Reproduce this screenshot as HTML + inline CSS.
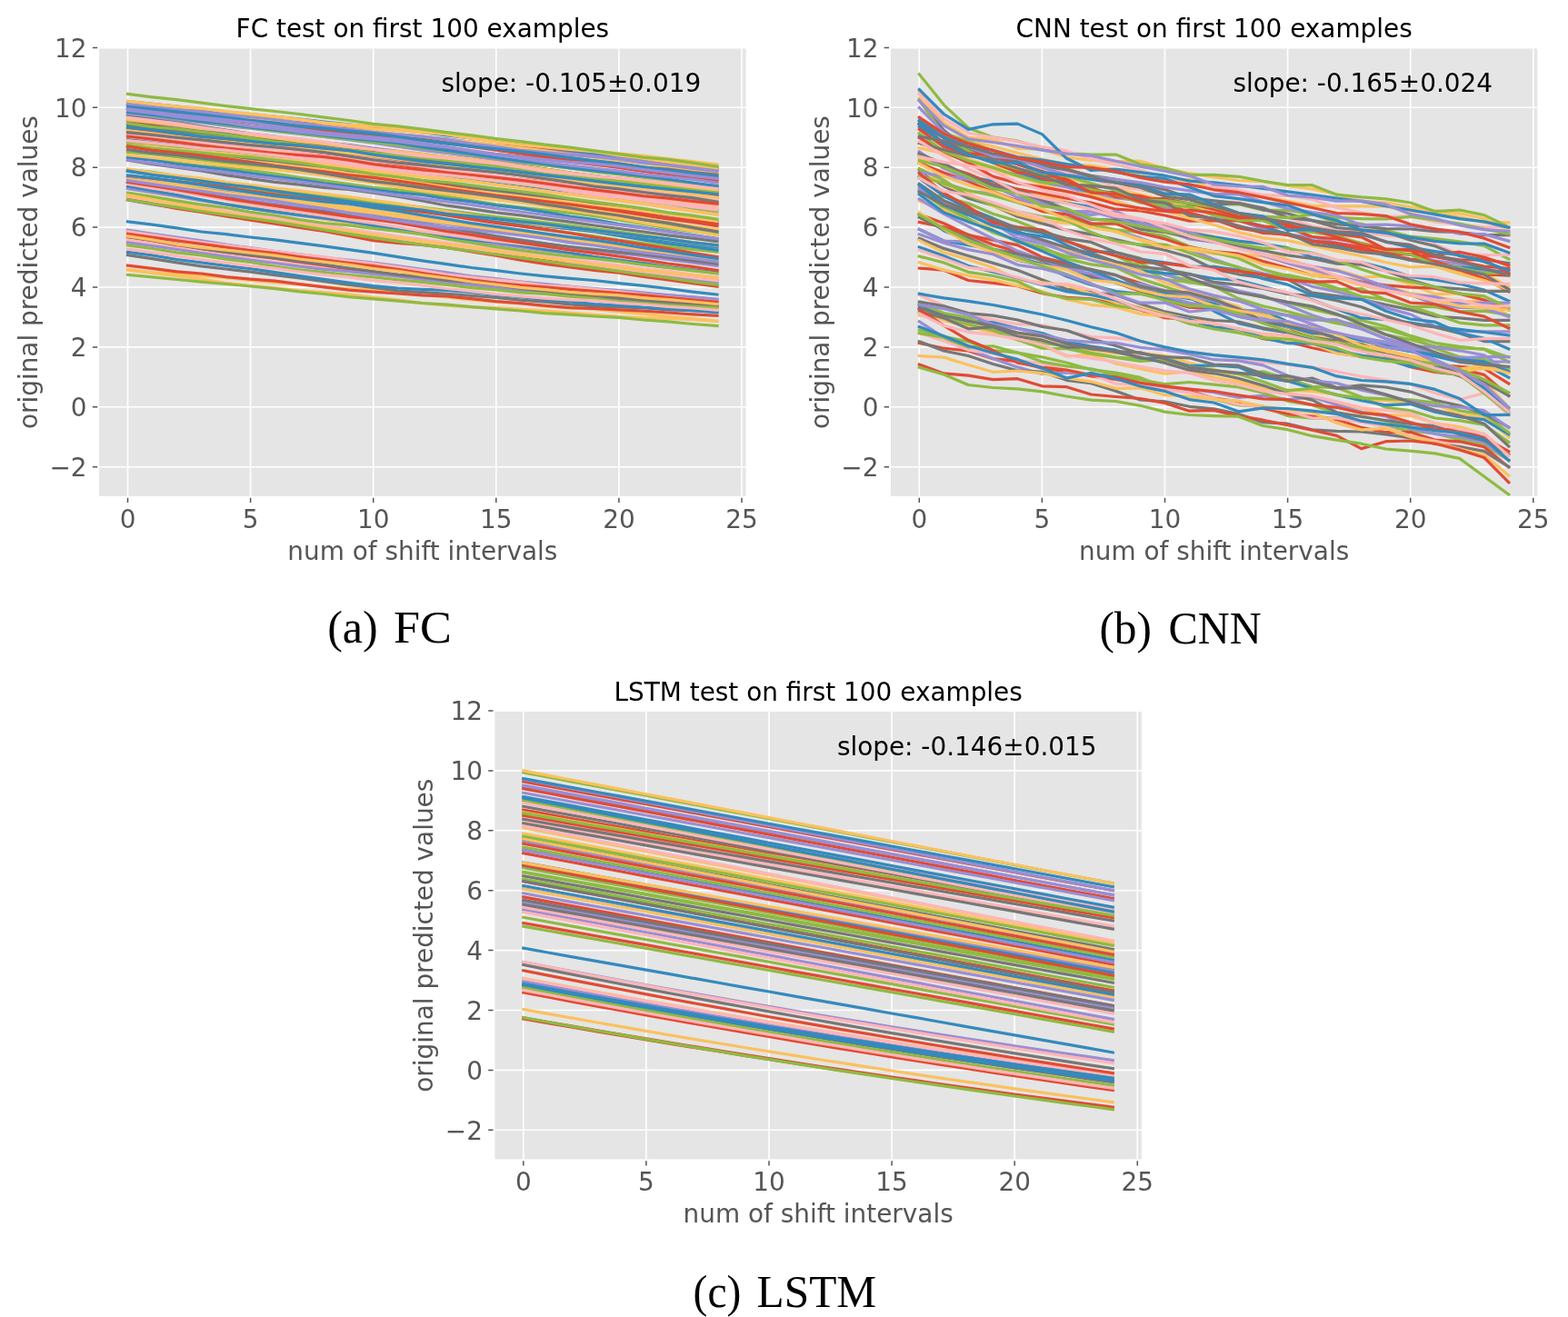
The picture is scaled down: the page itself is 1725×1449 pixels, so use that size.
<!DOCTYPE html>
<html><head><meta charset="utf-8"><title>figure</title>
<style>html,body{margin:0;padding:0;background:#fff;overflow:hidden;}svg{display:block;}</style></head>
<body>
<svg width="1725" height="1449" viewBox="0 0 1725 1449">
<rect width="100%" height="100%" fill="#fff"/>
<defs>
<clipPath id="c0"><rect x="109.10" y="53.40" width="711.50" height="492.40"/></clipPath>
<clipPath id="c1"><rect x="979.90" y="53.40" width="711.50" height="492.40"/></clipPath>
<clipPath id="c2"><rect x="544.40" y="783.00" width="711.50" height="492.40"/></clipPath>
</defs>
<g>
<rect x="109.10" y="53.40" width="711.50" height="492.40" fill="#E5E5E5"/>
<path d="M140.50 53.40V545.80M275.60 53.40V545.80M410.70 53.40V545.80M545.80 53.40V545.80M680.90 53.40V545.80M816.00 53.40V545.80M109.10 513.70H820.60M109.10 447.80H820.60M109.10 381.90H820.60M109.10 316.00H820.60M109.10 250.10H820.60M109.10 184.20H820.60M109.10 118.30H820.60M109.10 52.40H820.60" stroke="#fff" stroke-width="1.6" fill="none"/>
<g clip-path="url(#c0)" fill="none" stroke-width="3.2" stroke-linejoin="round" stroke-linecap="square">
<path d="M140.5,148.4 167.5,150.7 194.5,153.6 221.6,157.1 248.6,159.6 275.6,163.2 302.6,166.0 329.6,168.4 356.7,171.0 383.7,173.9 410.7,177.1 437.7,181.0 464.7,185.2 491.8,188.7 518.8,192.1 545.8,194.2 572.8,197.0 599.8,199.5 626.9,203.0 653.9,206.6 680.9,210.3 707.9,214.3 734.9,216.8 762.0,220.7 789.0,224.0" stroke="#E24A33"/>
<path d="M140.5,161.6 167.5,164.6 194.5,168.4 221.6,172.0 248.6,175.9 275.6,179.1 302.6,181.7 329.6,184.5 356.7,186.3 383.7,190.1 410.7,193.2 437.7,195.8 464.7,199.0 491.8,202.6 518.8,205.6 545.8,210.3 572.8,215.0 599.8,218.9 626.9,222.7 653.9,226.3 680.9,229.3 707.9,232.5 734.9,236.4 762.0,240.2 789.0,244.0" stroke="#348ABD"/>
<path d="M140.5,172.6 167.5,175.7 194.5,179.2 221.6,182.5 248.6,184.7 275.6,187.7 302.6,191.0 329.6,195.4 356.7,198.9 383.7,202.5 410.7,206.3 437.7,208.9 464.7,212.2 491.8,216.1 518.8,220.7 545.8,224.8 572.8,228.1 599.8,231.2 626.9,234.2 653.9,237.6 680.9,241.9 707.9,246.3 734.9,251.1 762.0,254.5 789.0,258.0" stroke="#8EBA42"/>
<path d="M140.5,114.3 167.5,117.0 194.5,120.0 221.6,123.4 248.6,126.2 275.6,129.9 302.6,132.8 329.6,135.2 356.7,137.7 383.7,141.0 410.7,144.7 437.7,148.6 464.7,152.0 491.8,154.3 518.8,157.1 545.8,159.8 572.8,161.5 599.8,164.6 626.9,167.7 653.9,171.2 680.9,175.1 707.9,177.7 734.9,180.4 762.0,183.4 789.0,185.9" stroke="#E24A33"/>
<path d="M140.5,114.3 167.5,116.8 194.5,119.9 221.6,123.6 248.6,126.2 275.6,128.9 302.6,132.3 329.6,135.9 356.7,139.1 383.7,143.3 410.7,145.7 437.7,147.9 464.7,150.4 491.8,152.9 518.8,156.3 545.8,160.1 572.8,162.9 599.8,165.9 626.9,168.9 653.9,171.3 680.9,174.2 707.9,177.5 734.9,181.3 762.0,183.1 789.0,187.0" stroke="#988ED5"/>
<path d="M140.5,264.1 167.5,268.0 194.5,273.1 221.6,277.0 248.6,280.9 275.6,285.0 302.6,288.6 329.6,291.0 356.7,294.1 383.7,297.9 410.7,301.6 437.7,304.7 464.7,308.5 491.8,312.0 518.8,314.9 545.8,318.2 572.8,320.4 599.8,323.1 626.9,325.6 653.9,327.6 680.9,330.0 707.9,331.8 734.9,335.0 762.0,336.3 789.0,338.1" stroke="#FFB5B8"/>
<path d="M140.5,161.3 167.5,164.3 194.5,167.6 221.6,171.0 248.6,174.4 275.6,178.2 302.6,181.8 329.6,185.8 356.7,189.1 383.7,192.1 410.7,194.9 437.7,198.1 464.7,201.5 491.8,204.4 518.8,208.9 545.8,213.6 572.8,218.0 599.8,222.6 626.9,227.2 653.9,230.5 680.9,233.5 707.9,237.5 734.9,241.0 762.0,244.3 789.0,248.6" stroke="#E24A33"/>
<path d="M140.5,153.0 167.5,156.2 194.5,159.5 221.6,162.4 248.6,165.2 275.6,168.2 302.6,170.4 329.6,173.7 356.7,177.6 383.7,180.9 410.7,184.4 437.7,188.1 464.7,190.9 491.8,193.5 518.8,197.3 545.8,200.4 572.8,203.6 599.8,207.2 626.9,211.2 653.9,214.1 680.9,216.9 707.9,220.6 734.9,224.0 762.0,227.6 789.0,231.5" stroke="#348ABD"/>
<path d="M140.5,216.2 167.5,220.7 194.5,225.4 221.6,229.2 248.6,234.0 275.6,238.7 302.6,242.9 329.6,247.6 356.7,251.4 383.7,255.3 410.7,258.7 437.7,262.1 464.7,266.6 491.8,270.0 518.8,274.5 545.8,279.1 572.8,283.1 599.8,286.8 626.9,290.2 653.9,293.2 680.9,295.4 707.9,298.2 734.9,301.9 762.0,305.1 789.0,308.6" stroke="#E24A33"/>
<path d="M140.5,155.9 167.5,158.4 194.5,161.0 221.6,163.6 248.6,166.8 275.6,170.4 302.6,173.3 329.6,176.8 356.7,179.1 383.7,181.6 410.7,184.0 437.7,187.0 464.7,188.5 491.8,191.4 518.8,195.0 545.8,198.9 572.8,202.3 599.8,205.7 626.9,209.3 653.9,214.1 680.9,218.5 707.9,222.3 734.9,225.5 762.0,229.8 789.0,233.9" stroke="#FFB5B8"/>
<path d="M140.5,187.9 167.5,191.4 194.5,195.7 221.6,199.6 248.6,204.0 275.6,208.9 302.6,212.9 329.6,216.2 356.7,219.7 383.7,221.7 410.7,225.6 437.7,228.7 464.7,231.8 491.8,236.3 518.8,240.1 545.8,244.9 572.8,248.4 599.8,252.8 626.9,256.2 653.9,259.8 680.9,264.1 707.9,267.5 734.9,271.2 762.0,274.5 789.0,277.3" stroke="#8EBA42"/>
<path d="M140.5,219.9 167.5,225.0 194.5,228.7 221.6,232.9 248.6,236.6 275.6,240.4 302.6,244.0 329.6,248.2 356.7,252.5 383.7,256.2 410.7,260.3 437.7,264.0 464.7,267.6 491.8,271.9 518.8,275.6 545.8,280.7 572.8,284.1 599.8,288.1 626.9,291.0 653.9,294.2 680.9,297.3 707.9,300.7 734.9,304.2 762.0,308.2 789.0,311.4" stroke="#988ED5"/>
<path d="M140.5,194.6 167.5,198.4 194.5,201.2 221.6,205.5 248.6,208.7 275.6,211.4 302.6,215.6 329.6,219.2 356.7,223.7 383.7,227.6 410.7,231.8 437.7,236.1 464.7,240.3 491.8,244.2 518.8,248.1 545.8,252.5 572.8,257.0 599.8,259.6 626.9,262.9 653.9,266.2 680.9,270.0 707.9,273.6 734.9,278.4 762.0,282.1 789.0,286.8" stroke="#988ED5"/>
<path d="M140.5,188.5 167.5,192.2 194.5,195.2 221.6,197.7 248.6,201.2 275.6,205.7 302.6,209.1 329.6,213.0 356.7,216.1 383.7,218.9 410.7,221.6 437.7,225.8 464.7,229.9 491.8,234.1 518.8,238.9 545.8,242.4 572.8,245.6 599.8,248.9 626.9,251.7 653.9,254.9 680.9,259.4 707.9,263.9 734.9,267.8 762.0,271.5 789.0,275.3" stroke="#348ABD"/>
<path d="M140.5,119.7 167.5,122.8 194.5,125.5 221.6,129.6 248.6,132.2 275.6,135.3 302.6,138.1 329.6,140.5 356.7,142.8 383.7,145.7 410.7,148.5 437.7,151.5 464.7,154.5 491.8,157.6 518.8,161.4 545.8,165.2 572.8,168.8 599.8,172.4 626.9,176.1 653.9,179.1 680.9,182.8 707.9,186.5 734.9,189.5 762.0,193.4 789.0,196.4" stroke="#E24A33"/>
<path d="M140.5,260.6 167.5,264.7 194.5,269.6 221.6,273.3 248.6,277.3 275.6,281.1 302.6,284.5 329.6,288.2 356.7,291.9 383.7,295.9 410.7,299.5 437.7,302.3 464.7,304.7 491.8,307.5 518.8,310.3 545.8,314.6 572.8,317.7 599.8,321.1 626.9,323.8 653.9,325.6 680.9,327.5 707.9,329.6 734.9,332.0 762.0,334.6 789.0,336.4" stroke="#E24A33"/>
<path d="M140.5,127.5 167.5,131.0 194.5,135.2 221.6,139.7 248.6,143.0 275.6,147.2 302.6,150.1 329.6,154.1 356.7,156.8 383.7,159.5 410.7,163.1 437.7,166.4 464.7,169.4 491.8,172.5 518.8,175.8 545.8,179.3 572.8,182.2 599.8,186.0 626.9,190.0 653.9,193.8 680.9,196.7 707.9,199.5 734.9,202.1 762.0,204.6 789.0,207.9" stroke="#988ED5"/>
<path d="M140.5,132.5 167.5,136.6 194.5,140.7 221.6,144.3 248.6,147.7 275.6,150.1 302.6,153.2 329.6,155.3 356.7,158.8 383.7,162.6 410.7,165.6 437.7,169.6 464.7,173.3 491.8,177.7 518.8,180.8 545.8,184.1 572.8,187.2 599.8,189.7 626.9,191.8 653.9,194.0 680.9,196.2 707.9,199.4 734.9,202.6 762.0,206.2 789.0,209.1" stroke="#E24A33"/>
<path d="M140.5,150.4 167.5,153.1 194.5,156.1 221.6,159.3 248.6,162.3 275.6,165.4 302.6,168.3 329.6,171.7 356.7,174.9 383.7,178.4 410.7,181.4 437.7,184.4 464.7,187.5 491.8,191.3 518.8,194.2 545.8,197.3 572.8,200.4 599.8,203.8 626.9,207.0 653.9,210.3 680.9,213.6 707.9,216.7 734.9,220.5 762.0,223.8 789.0,226.7" stroke="#FBC15E"/>
<path d="M140.5,188.1 167.5,191.7 194.5,195.3 221.6,198.7 248.6,202.7 275.6,205.3 302.6,208.5 329.6,211.5 356.7,214.3 383.7,218.0 410.7,221.6 437.7,225.4 464.7,230.0 491.8,234.0 518.8,238.0 545.8,242.1 572.8,245.5 599.8,248.7 626.9,251.7 653.9,254.1 680.9,258.0 707.9,261.1 734.9,264.7 762.0,268.6 789.0,272.2" stroke="#348ABD"/>
<path d="M140.5,119.6 167.5,122.9 194.5,126.2 221.6,129.1 248.6,131.9 275.6,134.3 302.6,136.9 329.6,140.2 356.7,143.7 383.7,148.2 410.7,152.2 437.7,156.8 464.7,160.3 491.8,164.3 518.8,167.3 545.8,169.6 572.8,172.1 599.8,174.7 626.9,178.2 653.9,181.1 680.9,184.3 707.9,188.3 734.9,191.6 762.0,195.4 789.0,198.9" stroke="#E24A33"/>
<path d="M140.5,165.5 167.5,168.4 194.5,170.7 221.6,174.5 248.6,178.0 275.6,181.3 302.6,185.5 329.6,188.3 356.7,191.9 383.7,194.3 410.7,198.5 437.7,202.1 464.7,206.5 491.8,210.3 518.8,213.9 545.8,217.3 572.8,220.6 599.8,223.7 626.9,227.4 653.9,231.5 680.9,235.5 707.9,239.8 734.9,244.5 762.0,248.5 789.0,252.4" stroke="#FBC15E"/>
<path d="M140.5,207.2 167.5,212.1 194.5,216.5 221.6,220.6 248.6,224.6 275.6,228.3 302.6,232.9 329.6,236.8 356.7,241.3 383.7,245.5 410.7,248.6 437.7,252.0 464.7,255.5 491.8,259.6 518.8,264.3 545.8,268.2 572.8,272.0 599.8,275.6 626.9,278.9 653.9,282.5 680.9,286.6 707.9,290.5 734.9,293.5 762.0,297.2 789.0,300.8" stroke="#FBC15E"/>
<path d="M140.5,137.9 167.5,140.4 194.5,144.3 221.6,146.9 248.6,151.0 275.6,153.6 302.6,157.1 329.6,160.7 356.7,163.6 383.7,166.6 410.7,169.7 437.7,172.8 464.7,176.5 491.8,180.6 518.8,183.3 545.8,186.1 572.8,189.1 599.8,191.6 626.9,195.6 653.9,198.3 680.9,201.6 707.9,204.7 734.9,208.4 762.0,211.4 789.0,214.3" stroke="#777777"/>
<path d="M140.5,214.7 167.5,219.4 194.5,223.0 221.6,227.0 248.6,231.5 275.6,235.7 302.6,239.7 329.6,243.4 356.7,247.7 383.7,252.0 410.7,255.8 437.7,259.8 464.7,263.4 491.8,267.2 518.8,270.9 545.8,273.9 572.8,277.7 599.8,281.9 626.9,285.3 653.9,288.6 680.9,291.9 707.9,295.5 734.9,298.2 762.0,302.2 789.0,304.8" stroke="#FFB5B8"/>
<path d="M140.5,144.1 167.5,147.1 194.5,151.0 221.6,153.7 248.6,157.0 275.6,159.9 302.6,162.6 329.6,165.2 356.7,167.8 383.7,170.6 410.7,173.2 437.7,175.9 464.7,179.2 491.8,181.7 518.8,185.6 545.8,189.3 572.8,193.0 599.8,197.4 626.9,200.4 653.9,204.2 680.9,207.5 707.9,210.5 734.9,213.5 762.0,216.5 789.0,219.5" stroke="#FFB5B8"/>
<path d="M140.5,147.9 167.5,150.2 194.5,152.9 221.6,156.5 248.6,159.7 275.6,162.0 302.6,165.4 329.6,168.5 356.7,171.6 383.7,174.7 410.7,177.2 437.7,179.9 464.7,182.9 491.8,186.7 518.8,189.6 545.8,193.5 572.8,197.1 599.8,200.5 626.9,204.2 653.9,206.8 680.9,210.6 707.9,214.0 734.9,217.5 762.0,221.0 789.0,224.8" stroke="#FFB5B8"/>
<path d="M140.5,217.3 167.5,221.8 194.5,225.1 221.6,230.4 248.6,233.8 275.6,238.0 302.6,242.4 329.6,245.6 356.7,249.4 383.7,253.6 410.7,257.9 437.7,262.2 464.7,266.3 491.8,270.4 518.8,273.8 545.8,276.9 572.8,280.5 599.8,283.4 626.9,287.9 653.9,291.2 680.9,295.3 707.9,299.0 734.9,301.9 762.0,305.3 789.0,308.6" stroke="#FFB5B8"/>
<path d="M140.5,143.4 167.5,146.7 194.5,150.0 221.6,152.1 248.6,155.0 275.6,158.0 302.6,160.6 329.6,164.5 356.7,166.4 383.7,170.2 410.7,173.0 437.7,175.6 464.7,179.8 491.8,182.6 518.8,185.5 545.8,188.7 572.8,192.7 599.8,196.0 626.9,198.9 653.9,202.8 680.9,205.8 707.9,209.6 734.9,212.8 762.0,216.5 789.0,219.5" stroke="#FFB5B8"/>
<path d="M140.5,207.6 167.5,211.7 194.5,215.9 221.6,220.7 248.6,225.0 275.6,229.4 302.6,233.3 329.6,237.1 356.7,240.1 383.7,243.7 410.7,248.5 437.7,253.3 464.7,257.6 491.8,262.0 518.8,265.4 545.8,268.7 572.8,271.9 599.8,275.5 626.9,278.6 653.9,282.7 680.9,287.0 707.9,290.9 734.9,294.4 762.0,297.1 789.0,300.6" stroke="#988ED5"/>
<path d="M140.5,132.1 167.5,134.6 194.5,138.6 221.6,141.8 248.6,145.1 275.6,148.4 302.6,151.4 329.6,155.4 356.7,158.4 383.7,161.9 410.7,164.7 437.7,168.3 464.7,171.4 491.8,174.4 518.8,177.5 545.8,180.7 572.8,184.6 599.8,187.2 626.9,190.7 653.9,193.7 680.9,197.0 707.9,200.3 734.9,203.5 762.0,206.7 789.0,209.4" stroke="#988ED5"/>
<path d="M140.5,126.7 167.5,130.3 194.5,134.6 221.6,139.0 248.6,143.3 275.6,147.3 302.6,151.4 329.6,153.9 356.7,156.8 383.7,159.9 410.7,163.8 437.7,167.8 464.7,171.8 491.8,174.7 518.8,177.1 545.8,179.4 572.8,182.7 599.8,186.2 626.9,190.2 653.9,193.5 680.9,196.8 707.9,199.9 734.9,202.7 762.0,205.4 789.0,207.9" stroke="#777777"/>
<path d="M140.5,141.3 167.5,144.4 194.5,147.0 221.6,149.3 248.6,151.7 275.6,154.8 302.6,157.9 329.6,160.5 356.7,164.1 383.7,166.8 410.7,169.5 437.7,172.2 464.7,174.5 491.8,176.8 518.8,180.4 545.8,183.9 572.8,188.0 599.8,191.7 626.9,196.0 653.9,200.1 680.9,203.3 707.9,206.1 734.9,209.7 762.0,212.5 789.0,216.2" stroke="#8EBA42"/>
<path d="M140.5,205.0 167.5,209.7 194.5,214.5 221.6,219.8 248.6,224.7 275.6,229.2 302.6,232.8 329.6,236.5 356.7,240.0 383.7,243.7 410.7,248.0 437.7,252.2 464.7,256.9 491.8,260.9 518.8,263.8 545.8,266.2 572.8,270.1 599.8,274.3 626.9,278.0 653.9,282.6 680.9,285.6 707.9,289.2 734.9,292.0 762.0,294.4 789.0,297.9" stroke="#348ABD"/>
<path d="M140.5,156.5 167.5,158.4 194.5,161.6 221.6,163.7 248.6,166.5 275.6,169.0 302.6,171.5 329.6,174.5 356.7,177.0 383.7,180.0 410.7,183.2 437.7,186.4 464.7,189.9 491.8,192.8 518.8,196.3 545.8,199.2 572.8,202.4 599.8,206.3 626.9,210.0 653.9,213.4 680.9,217.6 707.9,221.2 734.9,225.0 762.0,229.2 789.0,232.7" stroke="#8EBA42"/>
<path d="M140.5,186.5 167.5,189.3 194.5,193.6 221.6,196.9 248.6,200.7 275.6,204.5 302.6,207.6 329.6,211.5 356.7,214.7 383.7,219.1 410.7,222.2 437.7,224.8 464.7,228.3 491.8,231.6 518.8,235.0 545.8,238.5 572.8,241.7 599.8,244.9 626.9,248.0 653.9,251.7 680.9,255.2 707.9,258.6 734.9,263.0 762.0,266.6 789.0,269.7" stroke="#8EBA42"/>
<path d="M140.5,160.8 167.5,163.6 194.5,166.8 221.6,170.0 248.6,172.5 275.6,175.5 302.6,178.9 329.6,181.9 356.7,185.1 383.7,189.0 410.7,192.6 437.7,195.8 464.7,198.9 491.8,201.7 518.8,205.7 545.8,209.5 572.8,213.3 599.8,216.9 626.9,220.3 653.9,223.5 680.9,227.6 707.9,231.2 734.9,235.5 762.0,240.0 789.0,243.8" stroke="#777777"/>
<path d="M140.5,167.2 167.5,169.6 194.5,172.7 221.6,175.8 248.6,179.2 275.6,182.4 302.6,186.1 329.6,189.2 356.7,192.7 383.7,196.5 410.7,199.3 437.7,203.2 464.7,205.4 491.8,208.6 518.8,211.7 545.8,215.1 572.8,219.7 599.8,224.2 626.9,228.5 653.9,233.6 680.9,238.0 707.9,242.0 734.9,246.5 762.0,251.4 789.0,255.3" stroke="#8EBA42"/>
<path d="M140.5,296.4 167.5,299.6 194.5,300.8 221.6,303.5 248.6,305.6 275.6,308.3 302.6,310.8 329.6,312.9 356.7,315.6 383.7,317.5 410.7,319.2 437.7,321.8 464.7,324.7 491.8,327.0 518.8,330.0 545.8,332.1 572.8,334.0 599.8,336.8 626.9,338.7 653.9,340.5 680.9,343.0 707.9,345.3 734.9,348.1 762.0,350.4 789.0,353.2" stroke="#FBC15E"/>
<path d="M140.5,159.8 167.5,161.8 194.5,164.3 221.6,166.9 248.6,169.1 275.6,172.1 302.6,174.9 329.6,177.7 356.7,181.7 383.7,184.0 410.7,186.6 437.7,189.9 464.7,193.0 491.8,196.0 518.8,199.7 545.8,203.4 572.8,206.9 599.8,210.4 626.9,213.9 653.9,217.2 680.9,220.8 707.9,224.5 734.9,227.3 762.0,232.1 789.0,236.1" stroke="#FFB5B8"/>
<path d="M140.5,135.5 167.5,138.9 194.5,141.9 221.6,144.9 248.6,147.5 275.6,151.0 302.6,154.0 329.6,158.0 356.7,161.5 383.7,165.9 410.7,169.4 437.7,172.9 464.7,176.4 491.8,179.3 518.8,182.3 545.8,184.6 572.8,187.3 599.8,189.8 626.9,192.7 653.9,196.1 680.9,199.3 707.9,202.7 734.9,206.5 762.0,209.5 789.0,212.3" stroke="#777777"/>
<path d="M140.5,253.9 167.5,257.6 194.5,261.7 221.6,266.1 248.6,269.7 275.6,272.5 302.6,276.7 329.6,279.9 356.7,283.4 383.7,286.0 410.7,289.1 437.7,292.6 464.7,296.3 491.8,299.8 518.8,303.9 545.8,306.7 572.8,310.1 599.8,312.7 626.9,315.3 653.9,317.7 680.9,319.5 707.9,322.1 734.9,324.8 762.0,326.8 789.0,329.1" stroke="#988ED5"/>
<path d="M140.5,118.1 167.5,120.4 194.5,123.0 221.6,125.4 248.6,127.6 275.6,130.5 302.6,132.8 329.6,136.0 356.7,138.4 383.7,141.5 410.7,144.4 437.7,147.7 464.7,150.7 491.8,153.9 518.8,156.4 545.8,159.8 572.8,162.9 599.8,166.2 626.9,170.0 653.9,173.5 680.9,176.7 707.9,179.8 734.9,183.9 762.0,187.6 789.0,191.3" stroke="#FBC15E"/>
<path d="M140.5,185.8 167.5,190.1 194.5,193.4 221.6,196.2 248.6,200.4 275.6,203.4 302.6,207.1 329.6,209.9 356.7,213.3 383.7,216.5 410.7,220.4 437.7,223.8 464.7,228.8 491.8,232.9 518.8,237.0 545.8,240.8 572.8,244.3 599.8,248.2 626.9,250.2 653.9,253.7 680.9,256.8 707.9,260.1 734.9,263.2 762.0,267.2 789.0,270.4" stroke="#FBC15E"/>
<path d="M140.5,118.0 167.5,120.8 194.5,123.9 221.6,128.0 248.6,130.6 275.6,133.5 302.6,136.3 329.6,138.8 356.7,141.5 383.7,144.9 410.7,147.6 437.7,150.5 464.7,153.3 491.8,157.0 518.8,159.7 545.8,162.9 572.8,166.0 599.8,169.9 626.9,173.6 653.9,176.8 680.9,179.9 707.9,184.1 734.9,186.1 762.0,189.7 789.0,192.3" stroke="#777777"/>
<path d="M140.5,297.0 167.5,300.4 194.5,303.6 221.6,307.2 248.6,311.3 275.6,314.3 302.6,316.9 329.6,319.7 356.7,321.5 383.7,323.9 410.7,327.0 437.7,329.8 464.7,333.7 491.8,336.2 518.8,337.9 545.8,338.7 572.8,340.3 599.8,341.8 626.9,344.1 653.9,346.3 680.9,348.3 707.9,349.7 734.9,350.5 762.0,351.6 789.0,353.3" stroke="#FBC15E"/>
<path d="M140.5,162.1 167.5,165.0 194.5,168.4 221.6,171.0 248.6,174.1 275.6,177.5 302.6,180.4 329.6,183.6 356.7,186.6 383.7,190.9 410.7,193.8 437.7,197.5 464.7,201.9 491.8,205.9 518.8,209.8 545.8,212.9 572.8,216.1 599.8,219.4 626.9,222.4 653.9,226.0 680.9,228.8 707.9,232.5 734.9,236.0 762.0,240.1 789.0,243.8" stroke="#FBC15E"/>
<path d="M140.5,142.0 167.5,145.8 194.5,148.2 221.6,151.2 248.6,154.0 275.6,156.8 302.6,160.2 329.6,162.6 356.7,165.6 383.7,168.7 410.7,171.8 437.7,175.3 464.7,179.6 491.8,182.5 518.8,186.3 545.8,189.5 572.8,192.2 599.8,194.5 626.9,197.3 653.9,199.5 680.9,202.7 707.9,206.3 734.9,209.3 762.0,212.8 789.0,216.0" stroke="#E24A33"/>
<path d="M140.5,111.6 167.5,114.4 194.5,117.1 221.6,120.0 248.6,123.5 275.6,125.9 302.6,128.3 329.6,131.2 356.7,134.1 383.7,136.9 410.7,140.7 437.7,143.1 464.7,145.6 491.8,148.8 518.8,151.8 545.8,154.6 572.8,158.4 599.8,162.0 626.9,165.1 653.9,168.7 680.9,171.1 707.9,174.7 734.9,177.8 762.0,180.8 789.0,184.4" stroke="#348ABD"/>
<path d="M140.5,125.2 167.5,128.3 194.5,131.9 221.6,135.0 248.6,138.5 275.6,141.2 302.6,144.4 329.6,147.5 356.7,150.3 383.7,153.6 410.7,157.2 437.7,161.1 464.7,165.1 491.8,168.4 518.8,172.0 545.8,175.9 572.8,179.2 599.8,181.8 626.9,184.8 653.9,188.2 680.9,190.5 707.9,195.1 734.9,198.3 762.0,201.6 789.0,204.9" stroke="#988ED5"/>
<path d="M140.5,195.1 167.5,198.7 194.5,202.1 221.6,205.8 248.6,209.0 275.6,213.0 302.6,216.5 329.6,220.5 356.7,224.0 383.7,227.9 410.7,231.4 437.7,235.1 464.7,239.4 491.8,243.7 518.8,248.4 545.8,252.7 572.8,256.1 599.8,259.8 626.9,262.7 653.9,266.2 680.9,270.3 707.9,274.6 734.9,278.4 762.0,282.2 789.0,286.4" stroke="#FBC15E"/>
<path d="M140.5,131.6 167.5,134.6 194.5,137.6 221.6,141.3 248.6,143.9 275.6,148.4 302.6,151.8 329.6,155.5 356.7,158.2 383.7,161.7 410.7,164.5 437.7,166.5 464.7,169.6 491.8,172.6 518.8,175.4 545.8,178.7 572.8,182.7 599.8,186.3 626.9,190.2 653.9,193.6 680.9,197.0 707.9,200.2 734.9,203.5 762.0,206.3 789.0,209.7" stroke="#FBC15E"/>
<path d="M140.5,253.1 167.5,257.3 194.5,261.1 221.6,264.9 248.6,269.1 275.6,273.5 302.6,277.2 329.6,280.3 356.7,284.2 383.7,287.9 410.7,291.3 437.7,295.7 464.7,298.8 491.8,303.0 518.8,306.0 545.8,308.4 572.8,310.1 599.8,313.1 626.9,315.4 653.9,318.5 680.9,320.3 707.9,323.0 734.9,324.6 762.0,327.2 789.0,329.7" stroke="#988ED5"/>
<path d="M140.5,200.6 167.5,204.5 194.5,208.6 221.6,212.6 248.6,216.9 275.6,220.8 302.6,224.4 329.6,227.8 356.7,232.1 383.7,235.9 410.7,240.9 437.7,244.5 464.7,248.5 491.8,252.0 518.8,256.1 545.8,259.6 572.8,263.8 599.8,267.8 626.9,271.9 653.9,275.5 680.9,278.6 707.9,281.7 734.9,285.3 762.0,288.9 789.0,292.4" stroke="#988ED5"/>
<path d="M140.5,111.4 167.5,114.8 194.5,117.4 221.6,119.5 248.6,122.6 275.6,125.1 302.6,128.3 329.6,131.4 356.7,135.4 383.7,138.1 410.7,141.5 437.7,143.7 464.7,145.9 491.8,147.4 518.8,150.0 545.8,153.0 572.8,156.5 599.8,160.0 626.9,162.8 653.9,166.1 680.9,168.8 707.9,171.3 734.9,174.5 762.0,177.5 789.0,180.8" stroke="#FBC15E"/>
<path d="M140.5,200.6 167.5,204.0 194.5,208.5 221.6,213.5 248.6,217.5 275.6,222.4 302.6,226.2 329.6,229.8 356.7,232.5 383.7,235.3 410.7,238.4 437.7,241.9 464.7,245.9 491.8,250.5 518.8,254.9 545.8,260.0 572.8,264.3 599.8,268.1 626.9,271.5 653.9,274.3 680.9,277.4 707.9,280.0 734.9,283.2 762.0,287.0 789.0,290.2" stroke="#777777"/>
<path d="M140.5,266.8 167.5,270.5 194.5,274.4 221.6,278.5 248.6,282.4 275.6,286.0 302.6,289.5 329.6,293.1 356.7,296.3 383.7,298.7 410.7,301.4 437.7,304.0 464.7,307.4 491.8,310.5 518.8,313.5 545.8,316.4 572.8,319.8 599.8,322.6 626.9,325.3 653.9,327.4 680.9,329.2 707.9,331.4 734.9,333.5 762.0,336.4 789.0,337.8" stroke="#988ED5"/>
<path d="M140.5,150.4 167.5,153.7 194.5,156.3 221.6,159.5 248.6,162.7 275.6,165.6 302.6,168.6 329.6,171.9 356.7,175.2 383.7,178.7 410.7,181.6 437.7,184.7 464.7,188.2 491.8,191.7 518.8,194.1 545.8,196.7 572.8,199.6 599.8,203.4 626.9,207.4 653.9,211.1 680.9,214.9 707.9,218.2 734.9,221.5 762.0,225.2 789.0,228.5" stroke="#FFB5B8"/>
<path d="M140.5,176.2 167.5,180.6 194.5,184.2 221.6,187.9 248.6,192.7 275.6,196.6 302.6,200.4 329.6,203.2 356.7,206.4 383.7,208.4 410.7,212.1 437.7,216.1 464.7,221.0 491.8,226.2 518.8,229.9 545.8,233.9 572.8,236.9 599.8,240.6 626.9,244.2 653.9,248.0 680.9,251.5 707.9,255.0 734.9,258.9 762.0,262.2 789.0,265.6" stroke="#777777"/>
<path d="M140.5,143.5 167.5,146.8 194.5,150.0 221.6,153.5 248.6,155.9 275.6,158.7 302.6,161.4 329.6,163.7 356.7,166.0 383.7,168.5 410.7,171.6 437.7,175.0 464.7,178.4 491.8,181.5 518.8,184.9 545.8,187.7 572.8,192.1 599.8,195.3 626.9,198.2 653.9,201.7 680.9,204.1 707.9,207.4 734.9,210.3 762.0,213.7 789.0,217.3" stroke="#FBC15E"/>
<path d="M140.5,254.7 167.5,258.7 194.5,262.7 221.6,266.7 248.6,269.9 275.6,273.2 302.6,276.6 329.6,279.8 356.7,282.6 383.7,286.8 410.7,290.1 437.7,293.9 464.7,297.6 491.8,302.2 518.8,305.0 545.8,307.8 572.8,310.5 599.8,314.0 626.9,315.5 653.9,318.3 680.9,320.8 707.9,323.9 734.9,326.9 762.0,329.6 789.0,331.9" stroke="#FFB5B8"/>
<path d="M140.5,196.6 167.5,200.3 194.5,204.5 221.6,207.8 248.6,211.4 275.6,215.7 302.6,219.7 329.6,224.3 356.7,227.8 383.7,232.1 410.7,235.7 437.7,239.3 464.7,243.3 491.8,246.5 518.8,250.1 545.8,253.8 572.8,257.3 599.8,261.0 626.9,264.1 653.9,267.8 680.9,271.9 707.9,275.0 734.9,279.0 762.0,282.8 789.0,285.6" stroke="#988ED5"/>
<path d="M140.5,114.4 167.5,117.3 194.5,120.5 221.6,123.4 248.6,126.1 275.6,128.7 302.6,131.5 329.6,135.2 356.7,139.2 383.7,142.2 410.7,145.4 437.7,147.8 464.7,150.2 491.8,153.9 518.8,158.0 545.8,161.3 572.8,165.3 599.8,167.7 626.9,170.3 653.9,172.5 680.9,175.2 707.9,179.1 734.9,181.7 762.0,185.3 789.0,188.4" stroke="#988ED5"/>
<path d="M140.5,159.1 167.5,161.6 194.5,164.5 221.6,167.4 248.6,169.3 275.6,172.0 302.6,175.0 329.6,177.8 356.7,180.8 383.7,184.9 410.7,188.3 437.7,191.5 464.7,194.7 491.8,197.1 518.8,199.7 545.8,203.0 572.8,206.7 599.8,211.0 626.9,213.9 653.9,217.5 680.9,220.9 707.9,224.4 734.9,228.6 762.0,232.5 789.0,236.2" stroke="#FBC15E"/>
<path d="M140.5,193.4 167.5,196.1 194.5,199.3 221.6,202.5 248.6,206.1 275.6,210.3 302.6,214.2 329.6,217.6 356.7,220.2 383.7,223.3 410.7,226.9 437.7,229.9 464.7,233.2 491.8,236.9 518.8,241.4 545.8,245.3 572.8,248.8 599.8,252.4 626.9,256.5 653.9,261.1 680.9,264.8 707.9,269.3 734.9,273.7 762.0,278.4 789.0,282.7" stroke="#E24A33"/>
<path d="M140.5,111.4 167.5,114.3 194.5,117.2 221.6,119.2 248.6,122.7 275.6,125.6 302.6,128.4 329.6,131.5 356.7,134.9 383.7,137.2 410.7,138.5 437.7,140.8 464.7,144.3 491.8,148.0 518.8,152.1 545.8,156.2 572.8,159.5 599.8,161.8 626.9,164.5 653.9,167.0 680.9,170.8 707.9,174.3 734.9,178.1 762.0,181.3 789.0,184.8" stroke="#FBC15E"/>
<path d="M140.5,173.5 167.5,176.2 194.5,180.5 221.6,183.7 248.6,186.9 275.6,190.5 302.6,194.1 329.6,197.5 356.7,201.8 383.7,205.0 410.7,208.5 437.7,211.8 464.7,214.3 491.8,218.9 518.8,221.8 545.8,226.0 572.8,229.2 599.8,233.4 626.9,238.1 653.9,241.7 680.9,246.5 707.9,250.3 734.9,254.5 762.0,258.7 789.0,262.7" stroke="#348ABD"/>
<path d="M140.5,197.1 167.5,200.6 194.5,204.3 221.6,208.3 248.6,212.1 275.6,215.6 302.6,219.2 329.6,222.6 356.7,226.4 383.7,230.9 410.7,234.1 437.7,238.1 464.7,242.0 491.8,245.3 518.8,248.8 545.8,252.4 572.8,256.4 599.8,259.6 626.9,263.4 653.9,267.5 680.9,271.7 707.9,274.9 734.9,278.5 762.0,282.2 789.0,285.8" stroke="#FBC15E"/>
<path d="M140.5,219.7 167.5,224.2 194.5,229.4 221.6,233.5 248.6,237.9 275.6,242.1 302.6,246.1 329.6,250.3 356.7,254.5 383.7,259.4 410.7,264.6 437.7,267.5 464.7,269.5 491.8,272.7 518.8,276.8 545.8,281.2 572.8,286.2 599.8,290.3 626.9,293.8 653.9,297.4 680.9,300.1 707.9,304.4 734.9,307.9 762.0,311.7 789.0,315.2" stroke="#E24A33"/>
<path d="M140.5,123.6 167.5,126.8 194.5,130.3 221.6,134.0 248.6,137.4 275.6,140.7 302.6,144.1 329.6,146.9 356.7,150.4 383.7,153.2 410.7,156.4 437.7,159.3 464.7,163.0 491.8,166.5 518.8,170.1 545.8,173.7 572.8,178.0 599.8,181.8 626.9,185.0 653.9,189.0 680.9,191.9 707.9,195.4 734.9,198.4 762.0,202.0 789.0,204.5" stroke="#8EBA42"/>
<path d="M140.5,202.5 167.5,207.1 194.5,211.0 221.6,215.5 248.6,220.0 275.6,225.0 302.6,229.6 329.6,233.5 356.7,237.4 383.7,241.6 410.7,245.4 437.7,249.7 464.7,254.3 491.8,258.1 518.8,261.8 545.8,265.4 572.8,268.4 599.8,271.7 626.9,275.1 653.9,278.9 680.9,283.0 707.9,286.4 734.9,290.4 762.0,293.6 789.0,296.7" stroke="#FFB5B8"/>
<path d="M140.5,135.6 167.5,139.6 194.5,141.8 221.6,145.2 248.6,148.0 275.6,151.9 302.6,156.2 329.6,159.1 356.7,162.5 383.7,165.0 410.7,168.3 437.7,170.7 464.7,173.5 491.8,176.5 518.8,179.8 545.8,183.4 572.8,186.1 599.8,189.3 626.9,192.8 653.9,196.3 680.9,199.3 707.9,202.5 734.9,205.9 762.0,209.1 789.0,211.9" stroke="#8EBA42"/>
<path d="M140.5,123.4 167.5,126.3 194.5,130.0 221.6,133.7 248.6,136.3 275.6,140.1 302.6,143.0 329.6,145.9 356.7,148.8 383.7,151.8 410.7,154.7 437.7,157.4 464.7,161.9 491.8,165.7 518.8,169.4 545.8,173.4 572.8,177.1 599.8,180.5 626.9,184.6 653.9,187.6 680.9,190.7 707.9,194.0 734.9,197.2 762.0,201.0 789.0,204.9" stroke="#348ABD"/>
<path d="M140.5,159.4 167.5,163.0 194.5,165.5 221.6,168.1 248.6,170.9 275.6,172.8 302.6,176.0 329.6,179.1 356.7,183.5 383.7,187.0 410.7,191.6 437.7,194.5 464.7,198.4 491.8,200.5 518.8,203.8 545.8,207.3 572.8,210.5 599.8,214.1 626.9,218.4 653.9,222.1 680.9,225.6 707.9,229.3 734.9,233.9 762.0,237.2 789.0,241.2" stroke="#8EBA42"/>
<path d="M140.5,280.7 167.5,284.7 194.5,288.8 221.6,292.8 248.6,296.0 275.6,299.1 302.6,302.6 329.6,306.0 356.7,309.6 383.7,313.4 410.7,316.5 437.7,319.8 464.7,321.7 491.8,323.3 518.8,325.4 545.8,327.4 572.8,330.1 599.8,332.2 626.9,334.9 653.9,336.9 680.9,337.8 707.9,338.7 734.9,340.9 762.0,341.7 789.0,342.9" stroke="#777777"/>
<path d="M140.5,187.8 167.5,192.3 194.5,195.7 221.6,199.1 248.6,202.9 275.6,205.9 302.6,210.1 329.6,214.1 356.7,217.6 383.7,221.6 410.7,225.1 437.7,228.3 464.7,231.0 491.8,235.4 518.8,237.8 545.8,240.7 572.8,243.9 599.8,246.6 626.9,250.1 653.9,253.3 680.9,256.6 707.9,260.1 734.9,262.8 762.0,266.9 789.0,269.9" stroke="#348ABD"/>
<path d="M140.5,243.9 167.5,247.1 194.5,250.9 221.6,255.0 248.6,257.7 275.6,261.0 302.6,263.8 329.6,267.4 356.7,270.8 383.7,274.7 410.7,278.4 437.7,282.6 464.7,286.8 491.8,290.7 518.8,294.5 545.8,297.6 572.8,301.0 599.8,303.9 626.9,306.4 653.9,308.5 680.9,311.7 707.9,314.4 734.9,317.5 762.0,321.1 789.0,324.1" stroke="#348ABD"/>
<path d="M140.5,145.7 167.5,148.4 194.5,151.3 221.6,153.9 248.6,156.9 275.6,159.6 302.6,161.8 329.6,164.7 356.7,167.7 383.7,171.8 410.7,175.8 437.7,179.1 464.7,181.6 491.8,184.5 518.8,186.8 545.8,189.6 572.8,192.9 599.8,196.6 626.9,200.5 653.9,205.2 680.9,207.9 707.9,211.5 734.9,214.8 762.0,217.6 789.0,222.1" stroke="#777777"/>
<path d="M140.5,161.2 167.5,165.3 194.5,168.0 221.6,171.2 248.6,174.7 275.6,178.4 302.6,182.4 329.6,185.7 356.7,188.9 383.7,192.5 410.7,195.4 437.7,199.2 464.7,203.0 491.8,207.5 518.8,211.3 545.8,215.1 572.8,218.2 599.8,221.5 626.9,224.9 653.9,228.3 680.9,231.7 707.9,235.4 734.9,239.6 762.0,242.9 789.0,246.6" stroke="#E24A33"/>
<path d="M140.5,212.2 167.5,216.4 194.5,220.9 221.6,225.2 248.6,228.5 275.6,233.3 302.6,237.0 329.6,241.6 356.7,245.5 383.7,247.8 410.7,251.4 437.7,254.3 464.7,257.9 491.8,263.0 518.8,267.2 545.8,271.7 572.8,275.3 599.8,278.8 626.9,282.1 653.9,284.7 680.9,287.7 707.9,291.3 734.9,294.4 762.0,297.8 789.0,300.8" stroke="#8EBA42"/>
<path d="M140.5,140.3 167.5,142.8 194.5,146.8 221.6,150.1 248.6,152.3 275.6,155.4 302.6,158.1 329.6,159.9 356.7,163.1 383.7,165.7 410.7,170.2 437.7,173.8 464.7,177.6 491.8,180.3 518.8,183.5 545.8,186.2 572.8,189.4 599.8,192.9 626.9,195.9 653.9,199.1 680.9,202.3 707.9,205.4 734.9,208.2 762.0,210.8 789.0,213.6" stroke="#348ABD"/>
<path d="M140.5,277.4 167.5,280.8 194.5,285.5 221.6,288.9 248.6,292.4 275.6,295.7 302.6,299.6 329.6,303.6 356.7,307.4 383.7,311.0 410.7,314.7 437.7,317.0 464.7,318.3 491.8,319.3 518.8,321.7 545.8,324.5 572.8,326.7 599.8,329.6 626.9,331.9 653.9,334.5 680.9,335.8 707.9,338.2 734.9,339.6 762.0,341.7 789.0,343.9" stroke="#348ABD"/>
<path d="M140.5,176.0 167.5,179.6 194.5,183.3 221.6,186.7 248.6,189.7 275.6,193.3 302.6,196.7 329.6,200.0 356.7,203.5 383.7,207.4 410.7,211.0 437.7,214.9 464.7,218.3 491.8,221.9 518.8,225.3 545.8,229.3 572.8,233.0 599.8,236.7 626.9,240.3 653.9,243.9 680.9,247.6 707.9,250.9 734.9,255.2 762.0,259.2 789.0,262.7" stroke="#988ED5"/>
<path d="M140.5,103.3 167.5,106.8 194.5,109.7 221.6,113.2 248.6,116.6 275.6,119.6 302.6,122.5 329.6,125.5 356.7,129.1 383.7,132.5 410.7,136.3 437.7,138.9 464.7,142.1 491.8,145.6 518.8,148.9 545.8,152.5 572.8,155.7 599.8,159.2 626.9,162.1 653.9,165.9 680.9,169.3 707.9,173.1 734.9,175.4 762.0,179.2 789.0,183.1" stroke="#8EBA42"/>
<path d="M140.5,117.4 167.5,120.2 194.5,122.9 221.6,126.2 248.6,129.0 275.6,132.3 302.6,135.2 329.6,138.6 356.7,141.2 383.7,144.0 410.7,146.6 437.7,150.4 464.7,154.6 491.8,158.1 518.8,161.2 545.8,163.9 572.8,166.7 599.8,169.9 626.9,173.7 653.9,177.2 680.9,180.2 707.9,183.9 734.9,187.3 762.0,190.8 789.0,194.3" stroke="#348ABD"/>
<path d="M140.5,257.4 167.5,261.2 194.5,264.8 221.6,268.4 248.6,272.2 275.6,275.7 302.6,278.7 329.6,282.6 356.7,286.1 383.7,289.3 410.7,292.6 437.7,296.4 464.7,300.7 491.8,304.7 518.8,308.1 545.8,311.3 572.8,313.8 599.8,315.9 626.9,318.4 653.9,320.4 680.9,322.5 707.9,324.7 734.9,327.3 762.0,329.8 789.0,332.3" stroke="#E24A33"/>
<path d="M140.5,292.1 167.5,295.4 194.5,298.9 221.6,301.0 248.6,304.6 275.6,307.2 302.6,309.2 329.6,312.6 356.7,315.8 383.7,319.1 410.7,321.2 437.7,323.0 464.7,324.9 491.8,326.0 518.8,328.7 545.8,331.6 572.8,333.6 599.8,336.4 626.9,338.7 653.9,339.5 680.9,340.9 707.9,342.2 734.9,344.0 762.0,345.8 789.0,347.2" stroke="#E24A33"/>
<path d="M140.5,214.6 167.5,219.6 194.5,224.6 221.6,229.4 248.6,234.2 275.6,238.7 302.6,243.0 329.6,246.3 356.7,251.4 383.7,254.4 410.7,258.3 437.7,261.9 464.7,265.3 491.8,268.9 518.8,272.0 545.8,275.9 572.8,279.8 599.8,283.6 626.9,287.2 653.9,291.1 680.9,294.2 707.9,297.4 734.9,299.9 762.0,302.5 789.0,305.7" stroke="#FBC15E"/>
<path d="M140.5,192.8 167.5,195.9 194.5,199.7 221.6,203.3 248.6,207.7 275.6,211.6 302.6,215.6 329.6,218.3 356.7,221.9 383.7,224.2 410.7,228.3 437.7,232.1 464.7,236.8 491.8,241.2 518.8,245.7 545.8,249.3 572.8,253.2 599.8,257.1 626.9,260.8 653.9,264.1 680.9,268.2 707.9,272.6 734.9,276.4 762.0,280.6 789.0,284.5" stroke="#348ABD"/>
<path d="M140.5,260.5 167.5,264.4 194.5,268.9 221.6,273.6 248.6,277.5 275.6,280.6 302.6,283.7 329.6,287.4 356.7,291.2 383.7,295.0 410.7,298.7 437.7,302.3 464.7,304.9 491.8,308.3 518.8,310.5 545.8,313.5 572.8,317.4 599.8,320.1 626.9,324.0 653.9,326.8 680.9,328.1 707.9,330.6 734.9,333.0 762.0,335.0 789.0,337.3" stroke="#777777"/>
<path d="M140.5,150.2 167.5,153.1 194.5,156.4 221.6,159.8 248.6,163.0 275.6,165.8 302.6,168.5 329.6,170.7 356.7,172.7 383.7,176.2 410.7,180.6 437.7,184.1 464.7,187.6 491.8,190.5 518.8,192.6 545.8,195.4 572.8,198.3 599.8,201.8 626.9,205.5 653.9,208.8 680.9,212.2 707.9,215.7 734.9,218.2 762.0,221.3 789.0,224.2" stroke="#E24A33"/>
<path d="M140.5,129.3 167.5,132.7 194.5,135.9 221.6,140.2 248.6,143.9 275.6,147.2 302.6,150.4 329.6,152.7 356.7,156.1 383.7,160.3 410.7,164.2 437.7,168.4 464.7,171.6 491.8,174.2 518.8,177.1 545.8,179.8 572.8,183.9 599.8,188.3 626.9,191.1 653.9,194.0 680.9,195.9 707.9,198.4 734.9,201.4 762.0,204.6 789.0,207.6" stroke="#FFB5B8"/>
<path d="M140.5,200.4 167.5,204.5 194.5,208.6 221.6,213.3 248.6,218.3 275.6,222.5 302.6,226.3 329.6,230.4 356.7,234.4 383.7,238.3 410.7,241.4 437.7,245.1 464.7,250.0 491.8,254.6 518.8,258.3 545.8,262.9 572.8,266.9 599.8,270.9 626.9,274.9 653.9,278.3 680.9,282.0 707.9,285.9 734.9,290.0 762.0,293.4 789.0,297.5" stroke="#E24A33"/>
<path d="M140.5,269.9 167.5,273.5 194.5,277.8 221.6,280.8 248.6,285.2 275.6,288.5 302.6,293.0 329.6,296.9 356.7,299.7 383.7,302.6 410.7,304.9 437.7,307.8 464.7,310.4 491.8,313.4 518.8,316.6 545.8,318.9 572.8,321.9 599.8,323.3 626.9,326.2 653.9,328.4 680.9,331.5 707.9,333.7 734.9,335.5 762.0,337.0 789.0,338.5" stroke="#8EBA42"/>
<path d="M140.5,259.8 167.5,263.9 194.5,268.8 221.6,272.3 248.6,275.1 275.6,278.1 302.6,281.1 329.6,285.0 356.7,288.1 383.7,291.4 410.7,295.5 437.7,298.3 464.7,302.6 491.8,306.0 518.8,310.0 545.8,313.1 572.8,316.4 599.8,318.7 626.9,321.5 653.9,323.3 680.9,324.8 707.9,327.8 734.9,329.7 762.0,332.0 789.0,334.6" stroke="#FBC15E"/>
<path d="M140.5,302.3 167.5,304.8 194.5,307.5 221.6,310.2 248.6,312.5 275.6,315.0 302.6,317.7 329.6,320.9 356.7,323.5 383.7,326.6 410.7,328.8 437.7,331.1 464.7,333.5 491.8,335.1 518.8,337.6 545.8,339.8 572.8,342.0 599.8,344.6 626.9,346.2 653.9,348.0 680.9,349.4 707.9,352.0 734.9,353.9 762.0,356.5 789.0,358.5" stroke="#8EBA42"/>
<path d="M140.5,154.5 167.5,157.3 194.5,160.0 221.6,163.2 248.6,165.2 275.6,168.2 302.6,170.9 329.6,174.2 356.7,177.7 383.7,180.3 410.7,184.5 437.7,187.0 464.7,190.1 491.8,192.6 518.8,195.7 545.8,198.8 572.8,202.1 599.8,205.6 626.9,210.3 653.9,213.8 680.9,217.1 707.9,220.8 734.9,223.8 762.0,227.6 789.0,230.9" stroke="#FFB5B8"/>
<path d="M140.5,198.6 167.5,202.6 194.5,206.6 221.6,210.3 248.6,214.4 275.6,217.6 302.6,221.1 329.6,225.5 356.7,229.6 383.7,234.4 410.7,238.9 437.7,242.9 464.7,246.8 491.8,250.1 518.8,252.7 545.8,255.6 572.8,258.8 599.8,262.3 626.9,266.9 653.9,270.0 680.9,274.2 707.9,277.9 734.9,281.2 762.0,284.5 789.0,287.9" stroke="#988ED5"/>
<path d="M140.5,170.6 167.5,173.5 194.5,176.2 221.6,179.0 248.6,181.9 275.6,184.5 302.6,186.6 329.6,189.3 356.7,192.8 383.7,197.3 410.7,201.2 437.7,205.7 464.7,209.9 491.8,213.5 518.8,216.9 545.8,219.8 572.8,222.8 599.8,226.9 626.9,231.3 653.9,235.4 680.9,240.1 707.9,245.3 734.9,249.7 762.0,254.0 789.0,258.8" stroke="#FBC15E"/>
<path d="M140.5,119.8 167.5,123.0 194.5,126.4 221.6,129.1 248.6,131.9 275.6,134.9 302.6,138.8 329.6,142.3 356.7,145.9 383.7,148.6 410.7,151.0 437.7,153.7 464.7,157.6 491.8,161.7 518.8,165.5 545.8,169.7 572.8,172.4 599.8,175.6 626.9,178.3 653.9,180.1 680.9,182.9 707.9,186.7 734.9,189.8 762.0,193.3 789.0,196.5" stroke="#988ED5"/>
<path d="M140.5,219.8 167.5,224.2 194.5,228.1 221.6,232.5 248.6,236.3 275.6,240.1 302.6,243.9 329.6,248.3 356.7,252.8 383.7,257.3 410.7,261.7 437.7,265.6 464.7,269.4 491.8,272.7 518.8,276.2 545.8,280.0 572.8,283.7 599.8,287.4 626.9,291.6 653.9,294.8 680.9,298.4 707.9,302.1 734.9,305.7 762.0,309.8 789.0,313.1" stroke="#8EBA42"/>
<path d="M140.5,164.7 167.5,168.4 194.5,170.7 221.6,173.9 248.6,177.5 275.6,179.9 302.6,183.1 329.6,186.6 356.7,190.8 383.7,195.3 410.7,199.6 437.7,202.6 464.7,206.6 491.8,209.6 518.8,212.9 545.8,216.4 572.8,220.5 599.8,225.0 626.9,228.9 653.9,233.3 680.9,237.0 707.9,241.6 734.9,245.4 762.0,250.3 789.0,254.8" stroke="#777777"/>
<path d="M140.5,121.4 167.5,124.5 194.5,128.3 221.6,131.3 248.6,134.7 275.6,138.8 302.6,141.6 329.6,145.2 356.7,147.8 383.7,150.7 410.7,153.2 437.7,155.7 464.7,159.2 491.8,162.1 518.8,166.4 545.8,170.5 572.8,174.1 599.8,178.5 626.9,182.0 653.9,185.0 680.9,188.1 707.9,191.9 734.9,194.5 762.0,197.4 789.0,201.2" stroke="#988ED5"/>
<path d="M140.5,274.1 167.5,277.6 194.5,281.7 221.6,285.6 248.6,289.1 275.6,292.7 302.6,295.3 329.6,299.0 356.7,302.4 383.7,304.8 410.7,308.7 437.7,310.8 464.7,314.1 491.8,317.5 518.8,320.4 545.8,323.6 572.8,325.9 599.8,328.1 626.9,329.9 653.9,330.6 680.9,333.3 707.9,335.0 734.9,337.3 762.0,339.0 789.0,341.2" stroke="#FFB5B8"/>
</g>
<path d="M140.50 547.70v5.3M275.60 547.70v5.3M410.70 547.70v5.3M545.80 547.70v5.3M680.90 547.70v5.3M816.00 547.70v5.3M107.20 513.70h-5.3M107.20 447.80h-5.3M107.20 381.90h-5.3M107.20 316.00h-5.3M107.20 250.10h-5.3M107.20 184.20h-5.3M107.20 118.30h-5.3M107.20 52.40h-5.3" stroke="#555" stroke-width="1.5" fill="none"/>
<g font-family="DejaVu Sans, sans-serif" font-size="27.9" fill="#555">
<text x="140.50" y="580.80" text-anchor="middle">0</text>
<text x="275.60" y="580.80" text-anchor="middle">5</text>
<text x="410.70" y="580.80" text-anchor="middle">10</text>
<text x="545.80" y="580.80" text-anchor="middle">15</text>
<text x="680.90" y="580.80" text-anchor="middle">20</text>
<text x="816.00" y="580.80" text-anchor="middle">25</text>
<text x="95.60" y="523.90" text-anchor="end">−2</text>
<text x="95.60" y="458.00" text-anchor="end">0</text>
<text x="95.60" y="392.10" text-anchor="end">2</text>
<text x="95.60" y="326.20" text-anchor="end">4</text>
<text x="95.60" y="260.30" text-anchor="end">6</text>
<text x="95.60" y="194.40" text-anchor="end">8</text>
<text x="95.60" y="128.50" text-anchor="end">10</text>
<text x="95.60" y="62.60" text-anchor="end">12</text>
<text x="464.85" y="615.50" text-anchor="middle">num of shift intervals</text>
<text transform="translate(40.90,299.60) rotate(-90)" text-anchor="middle">original predicted values</text>
</g>
<g font-family="DejaVu Sans, sans-serif" font-size="27.9" fill="#000">
<text x="464.85" y="41.25" text-anchor="middle">FC test on first 100 examples</text>
<text x="485.60" y="101.00">slope: -0.105±0.019</text>
</g>
</g>
<g>
<rect x="979.90" y="53.40" width="711.50" height="492.40" fill="#E5E5E5"/>
<path d="M1011.30 53.40V545.80M1146.40 53.40V545.80M1281.50 53.40V545.80M1416.60 53.40V545.80M1551.70 53.40V545.80M1686.80 53.40V545.80M979.90 513.70H1691.40M979.90 447.80H1691.40M979.90 381.90H1691.40M979.90 316.00H1691.40M979.90 250.10H1691.40M979.90 184.20H1691.40M979.90 118.30H1691.40M979.90 52.40H1691.40" stroke="#fff" stroke-width="1.6" fill="none"/>
<g clip-path="url(#c1)" fill="none" stroke-width="3.2" stroke-linejoin="round" stroke-linecap="square">
<path d="M1011.3,136.1 1038.3,157.7 1065.3,175.1 1092.4,187.2 1119.4,192.1 1146.4,200.7 1173.4,205.9 1200.4,213.6 1227.5,217.7 1254.5,220.9 1281.5,228.5 1308.5,234.2 1335.5,240.7 1362.6,242.2 1389.6,252.0 1416.6,258.2 1443.6,260.8 1470.6,267.2 1497.7,271.7 1524.7,276.2 1551.7,279.6 1578.7,286.9 1605.7,290.4 1632.8,298.1 1659.8,298.1" stroke="#988ED5"/>
<path d="M1011.3,244.4 1038.3,249.9 1065.3,258.2 1092.4,269.3 1119.4,276.9 1146.4,286.9 1173.4,294.7 1200.4,303.2 1227.5,310.9 1254.5,320.4 1281.5,330.3 1308.5,338.2 1335.5,340.0 1362.6,347.7 1389.6,351.6 1416.6,360.1 1443.6,372.2 1470.6,376.8 1497.7,382.7 1524.7,388.9 1551.7,396.2 1578.7,400.1 1605.7,405.5 1632.8,412.4 1659.8,435.5" stroke="#E24A33"/>
<path d="M1011.3,339.7 1038.3,352.6 1065.3,359.2 1092.4,366.3 1119.4,373.9 1146.4,380.0 1173.4,392.0 1200.4,390.2 1227.5,399.9 1254.5,405.8 1281.5,411.2 1308.5,408.9 1335.5,415.0 1362.6,420.1 1389.6,427.2 1416.6,429.2 1443.6,430.6 1470.6,434.2 1497.7,440.0 1524.7,440.7 1551.7,443.8 1578.7,444.5 1605.7,456.0 1632.8,458.6 1659.8,480.7" stroke="#FBC15E"/>
<path d="M1011.3,186.9 1038.3,204.7 1065.3,218.3 1092.4,226.0 1119.4,238.2 1146.4,245.9 1173.4,253.1 1200.4,257.8 1227.5,263.5 1254.5,269.8 1281.5,275.3 1308.5,282.7 1335.5,296.2 1362.6,301.8 1389.6,305.6 1416.6,307.3 1443.6,322.1 1470.6,325.5 1497.7,329.3 1524.7,335.3 1551.7,340.9 1578.7,348.0 1605.7,349.8 1632.8,352.4 1659.8,352.4" stroke="#777777"/>
<path d="M1011.3,193.7 1038.3,200.9 1065.3,210.0 1092.4,213.4 1119.4,220.3 1146.4,224.6 1173.4,233.5 1200.4,245.5 1227.5,253.7 1254.5,261.9 1281.5,271.4 1308.5,274.6 1335.5,285.2 1362.6,294.5 1389.6,300.9 1416.6,305.5 1443.6,315.2 1470.6,320.9 1497.7,328.3 1524.7,338.6 1551.7,345.9 1578.7,359.0 1605.7,364.1 1632.8,364.9 1659.8,364.9" stroke="#988ED5"/>
<path d="M1011.3,346.8 1038.3,351.1 1065.3,359.4 1092.4,356.6 1119.4,367.3 1146.4,374.0 1173.4,381.6 1200.4,385.0 1227.5,389.0 1254.5,388.3 1281.5,391.3 1308.5,399.3 1335.5,406.0 1362.6,417.8 1389.6,426.3 1416.6,431.9 1443.6,438.0 1470.6,443.7 1497.7,449.5 1524.7,456.7 1551.7,457.3 1578.7,465.6 1605.7,469.6 1632.8,477.5 1659.8,499.8" stroke="#FBC15E"/>
<path d="M1011.3,209.5 1038.3,228.5 1065.3,242.0 1092.4,255.8 1119.4,264.8 1146.4,273.2 1173.4,281.9 1200.4,285.0 1227.5,292.3 1254.5,289.7 1281.5,302.4 1308.5,308.3 1335.5,314.1 1362.6,321.2 1389.6,327.2 1416.6,332.7 1443.6,340.3 1470.6,346.5 1497.7,352.4 1524.7,359.3 1551.7,369.4 1578.7,377.3 1605.7,381.4 1632.8,384.3 1659.8,398.3" stroke="#8EBA42"/>
<path d="M1011.3,100.6 1038.3,136.8 1065.3,155.0 1092.4,161.0 1119.4,168.4 1146.4,175.1 1173.4,180.8 1200.4,182.1 1227.5,186.6 1254.5,193.1 1281.5,198.9 1308.5,197.6 1335.5,207.7 1362.6,213.5 1389.6,216.6 1416.6,221.2 1443.6,226.3 1470.6,226.9 1497.7,226.8 1524.7,227.1 1551.7,232.6 1578.7,233.9 1605.7,238.5 1632.8,244.9 1659.8,244.9" stroke="#FBC15E"/>
<path d="M1011.3,108.3 1038.3,135.2 1065.3,151.2 1092.4,153.5 1119.4,163.3 1146.4,164.3 1173.4,172.9 1200.4,176.5 1227.5,177.7 1254.5,177.2 1281.5,185.3 1308.5,190.7 1335.5,194.9 1362.6,198.5 1389.6,199.6 1416.6,204.3 1443.6,207.9 1470.6,213.8 1497.7,221.6 1524.7,222.8 1551.7,227.7 1578.7,231.8 1605.7,234.6 1632.8,240.5 1659.8,254.4" stroke="#FBC15E"/>
<path d="M1011.3,132.3 1038.3,146.0 1065.3,156.0 1092.4,165.8 1119.4,177.4 1146.4,185.5 1173.4,193.4 1200.4,194.4 1227.5,199.8 1254.5,208.5 1281.5,213.2 1308.5,216.1 1335.5,224.6 1362.6,224.8 1389.6,231.1 1416.6,231.5 1443.6,235.6 1470.6,244.9 1497.7,246.3 1524.7,253.6 1551.7,260.2 1578.7,262.7 1605.7,265.8 1632.8,270.4 1659.8,285.1" stroke="#8EBA42"/>
<path d="M1011.3,235.7 1038.3,245.8 1065.3,258.5 1092.4,264.3 1119.4,269.6 1146.4,283.0 1173.4,289.8 1200.4,296.8 1227.5,302.9 1254.5,311.5 1281.5,321.2 1308.5,327.0 1335.5,336.1 1362.6,346.2 1389.6,354.2 1416.6,359.7 1443.6,369.1 1470.6,378.4 1497.7,385.1 1524.7,394.5 1551.7,397.5 1578.7,401.7 1605.7,403.4 1632.8,405.5 1659.8,422.0" stroke="#E24A33"/>
<path d="M1011.3,133.2 1038.3,152.0 1065.3,157.9 1092.4,168.5 1119.4,176.0 1146.4,185.9 1173.4,188.8 1200.4,196.3 1227.5,205.9 1254.5,208.5 1281.5,211.1 1308.5,215.2 1335.5,222.8 1362.6,222.2 1389.6,230.2 1416.6,239.3 1443.6,249.0 1470.6,252.8 1497.7,255.4 1524.7,259.2 1551.7,261.7 1578.7,268.9 1605.7,279.4 1632.8,280.5 1659.8,280.5" stroke="#FFB5B8"/>
<path d="M1011.3,185.4 1038.3,203.0 1065.3,212.4 1092.4,226.5 1119.4,236.0 1146.4,242.6 1173.4,245.6 1200.4,246.1 1227.5,255.3 1254.5,263.2 1281.5,270.6 1308.5,274.6 1335.5,279.1 1362.6,279.8 1389.6,281.9 1416.6,289.2 1443.6,298.6 1470.6,305.4 1497.7,307.5 1524.7,315.3 1551.7,322.5 1578.7,326.3 1605.7,331.3 1632.8,331.5 1659.8,347.3" stroke="#FBC15E"/>
<path d="M1011.3,209.3 1038.3,224.1 1065.3,231.5 1092.4,245.1 1119.4,262.1 1146.4,268.1 1173.4,276.6 1200.4,280.4 1227.5,290.7 1254.5,296.7 1281.5,301.6 1308.5,311.0 1335.5,310.5 1362.6,320.1 1389.6,325.6 1416.6,335.7 1443.6,346.7 1470.6,355.2 1497.7,361.9 1524.7,372.4 1551.7,380.4 1578.7,388.8 1605.7,396.1 1632.8,398.0 1659.8,398.0" stroke="#988ED5"/>
<path d="M1011.3,81.7 1038.3,115.3 1065.3,140.7 1092.4,151.2 1119.4,155.2 1146.4,162.8 1173.4,168.7 1200.4,170.2 1227.5,170.1 1254.5,180.8 1281.5,184.9 1308.5,192.4 1335.5,192.3 1362.6,194.3 1389.6,199.3 1416.6,203.5 1443.6,203.7 1470.6,214.2 1497.7,216.9 1524.7,218.8 1551.7,223.0 1578.7,232.7 1605.7,231.0 1632.8,236.6 1659.8,249.8" stroke="#8EBA42"/>
<path d="M1011.3,235.5 1038.3,253.7 1065.3,264.7 1092.4,274.4 1119.4,286.3 1146.4,291.9 1173.4,304.0 1200.4,313.4 1227.5,320.5 1254.5,323.3 1281.5,328.3 1308.5,334.3 1335.5,340.4 1362.6,343.1 1389.6,341.4 1416.6,354.0 1443.6,362.3 1470.6,372.3 1497.7,380.5 1524.7,381.8 1551.7,386.3 1578.7,392.0 1605.7,398.3 1632.8,400.6 1659.8,415.4" stroke="#348ABD"/>
<path d="M1011.3,110.8 1038.3,143.3 1065.3,165.4 1092.4,173.2 1119.4,180.8 1146.4,190.3 1173.4,200.3 1200.4,208.6 1227.5,212.8 1254.5,220.5 1281.5,225.3 1308.5,225.8 1335.5,224.8 1362.6,223.6 1389.6,230.8 1416.6,235.0 1443.6,242.6 1470.6,246.6 1497.7,249.0 1524.7,251.6 1551.7,252.0 1578.7,254.7 1605.7,255.6 1632.8,258.6 1659.8,258.6" stroke="#777777"/>
<path d="M1011.3,139.4 1038.3,156.9 1065.3,167.3 1092.4,178.8 1119.4,189.3 1146.4,198.0 1173.4,202.9 1200.4,211.6 1227.5,211.5 1254.5,217.0 1281.5,220.9 1308.5,227.7 1335.5,235.1 1362.6,242.4 1389.6,248.9 1416.6,257.8 1443.6,264.6 1470.6,270.3 1497.7,274.0 1524.7,281.2 1551.7,285.5 1578.7,290.1 1605.7,294.1 1632.8,295.9 1659.8,301.1" stroke="#348ABD"/>
<path d="M1011.3,174.1 1038.3,180.8 1065.3,193.5 1092.4,204.2 1119.4,211.1 1146.4,215.4 1173.4,222.0 1200.4,231.2 1227.5,238.9 1254.5,241.6 1281.5,247.5 1308.5,255.2 1335.5,260.4 1362.6,266.2 1389.6,274.6 1416.6,285.4 1443.6,293.8 1470.6,296.5 1497.7,305.0 1524.7,303.9 1551.7,312.9 1578.7,323.6 1605.7,322.9 1632.8,331.5 1659.8,338.6" stroke="#FBC15E"/>
<path d="M1011.3,324.7 1038.3,336.2 1065.3,347.3 1092.4,351.7 1119.4,356.7 1146.4,357.9 1173.4,363.9 1200.4,370.5 1227.5,371.8 1254.5,375.0 1281.5,383.3 1308.5,387.3 1335.5,390.6 1362.6,394.1 1389.6,398.3 1416.6,401.1 1443.6,404.1 1470.6,408.7 1497.7,414.2 1524.7,418.4 1551.7,422.7 1578.7,432.5 1605.7,439.7 1632.8,432.4 1659.8,456.6" stroke="#FFB5B8"/>
<path d="M1011.3,338.3 1038.3,349.8 1065.3,356.7 1092.4,363.6 1119.4,373.8 1146.4,377.1 1173.4,381.1 1200.4,388.4 1227.5,393.1 1254.5,394.8 1281.5,392.7 1308.5,403.9 1335.5,407.4 1362.6,411.6 1389.6,408.8 1416.6,416.7 1443.6,425.3 1470.6,426.6 1497.7,436.8 1524.7,448.2 1551.7,451.8 1578.7,460.0 1605.7,462.7 1632.8,467.3 1659.8,486.4" stroke="#8EBA42"/>
<path d="M1011.3,103.4 1038.3,130.6 1065.3,146.2 1092.4,151.4 1119.4,155.7 1146.4,161.6 1173.4,165.9 1200.4,174.9 1227.5,181.1 1254.5,187.2 1281.5,195.7 1308.5,205.4 1335.5,205.7 1362.6,209.3 1389.6,214.7 1416.6,215.4 1443.6,219.5 1470.6,228.5 1497.7,233.9 1524.7,238.4 1551.7,237.9 1578.7,243.9 1605.7,247.1 1632.8,249.8 1659.8,249.8" stroke="#FFB5B8"/>
<path d="M1011.3,170.5 1038.3,180.1 1065.3,194.2 1092.4,199.2 1119.4,208.5 1146.4,219.6 1173.4,223.4 1200.4,227.7 1227.5,237.9 1254.5,245.0 1281.5,248.7 1308.5,255.7 1335.5,260.9 1362.6,265.2 1389.6,268.3 1416.6,272.7 1443.6,283.0 1470.6,287.4 1497.7,288.8 1524.7,295.4 1551.7,304.3 1578.7,308.0 1605.7,312.3 1632.8,319.1 1659.8,331.1" stroke="#348ABD"/>
<path d="M1011.3,212.9 1038.3,216.5 1065.3,223.7 1092.4,235.2 1119.4,243.4 1146.4,254.3 1173.4,265.7 1200.4,273.7 1227.5,281.5 1254.5,293.9 1281.5,307.4 1308.5,310.3 1335.5,315.0 1362.6,328.6 1389.6,336.8 1416.6,342.7 1443.6,349.9 1470.6,355.6 1497.7,358.1 1524.7,362.3 1551.7,370.3 1578.7,383.2 1605.7,392.7 1632.8,395.5 1659.8,405.9" stroke="#8EBA42"/>
<path d="M1011.3,157.1 1038.3,168.8 1065.3,174.9 1092.4,183.7 1119.4,186.5 1146.4,194.8 1173.4,195.1 1200.4,203.2 1227.5,207.8 1254.5,214.0 1281.5,220.4 1308.5,228.1 1335.5,230.7 1362.6,238.8 1389.6,241.6 1416.6,249.3 1443.6,251.5 1470.6,259.0 1497.7,270.3 1524.7,276.0 1551.7,279.4 1578.7,291.6 1605.7,300.1 1632.8,300.7 1659.8,315.3" stroke="#FBC15E"/>
<path d="M1011.3,205.1 1038.3,222.8 1065.3,240.7 1092.4,253.4 1119.4,266.1 1146.4,271.7 1173.4,284.7 1200.4,290.9 1227.5,294.4 1254.5,306.5 1281.5,315.3 1308.5,324.1 1335.5,327.3 1362.6,340.2 1389.6,344.1 1416.6,346.6 1443.6,350.1 1470.6,354.1 1497.7,357.7 1524.7,368.4 1551.7,373.6 1578.7,381.0 1605.7,383.0 1632.8,383.9 1659.8,392.9" stroke="#8EBA42"/>
<path d="M1011.3,185.6 1038.3,198.2 1065.3,215.5 1092.4,225.5 1119.4,232.8 1146.4,238.2 1173.4,242.6 1200.4,255.5 1227.5,265.7 1254.5,269.2 1281.5,269.1 1308.5,278.2 1335.5,287.4 1362.6,293.9 1389.6,303.1 1416.6,302.5 1443.6,308.1 1470.6,317.0 1497.7,326.0 1524.7,329.8 1551.7,337.5 1578.7,337.7 1605.7,342.9 1632.8,342.1 1659.8,346.7" stroke="#8EBA42"/>
<path d="M1011.3,335.2 1038.3,346.0 1065.3,352.9 1092.4,354.9 1119.4,361.4 1146.4,366.6 1173.4,375.9 1200.4,381.1 1227.5,385.2 1254.5,394.3 1281.5,395.1 1308.5,402.6 1335.5,401.8 1362.6,403.8 1389.6,415.2 1416.6,419.3 1443.6,427.2 1470.6,434.4 1497.7,440.7 1524.7,445.7 1551.7,444.6 1578.7,453.3 1605.7,458.6 1632.8,461.7 1659.8,477.7" stroke="#348ABD"/>
<path d="M1011.3,252.4 1038.3,265.0 1065.3,269.7 1092.4,274.2 1119.4,283.4 1146.4,290.6 1173.4,294.1 1200.4,305.7 1227.5,311.0 1254.5,318.6 1281.5,323.0 1308.5,326.9 1335.5,342.2 1362.6,355.6 1389.6,361.8 1416.6,366.0 1443.6,374.0 1470.6,378.0 1497.7,385.6 1524.7,394.7 1551.7,401.8 1578.7,406.9 1605.7,411.1 1632.8,428.3 1659.8,448.5" stroke="#348ABD"/>
<path d="M1011.3,136.4 1038.3,157.8 1065.3,166.6 1092.4,178.8 1119.4,189.6 1146.4,191.8 1173.4,197.1 1200.4,210.4 1227.5,212.7 1254.5,215.6 1281.5,222.4 1308.5,234.2 1335.5,241.2 1362.6,250.9 1389.6,255.2 1416.6,258.6 1443.6,265.4 1470.6,267.7 1497.7,274.7 1524.7,278.4 1551.7,280.1 1578.7,282.5 1605.7,287.6 1632.8,293.0 1659.8,295.5" stroke="#E24A33"/>
<path d="M1011.3,168.2 1038.3,182.7 1065.3,191.3 1092.4,202.9 1119.4,208.0 1146.4,213.0 1173.4,218.3 1200.4,223.0 1227.5,230.2 1254.5,231.9 1281.5,237.0 1308.5,243.1 1335.5,242.6 1362.6,242.9 1389.6,249.2 1416.6,250.3 1443.6,260.5 1470.6,262.8 1497.7,267.5 1524.7,274.0 1551.7,275.6 1578.7,290.0 1605.7,297.1 1632.8,306.2 1659.8,320.9" stroke="#E24A33"/>
<path d="M1011.3,363.0 1038.3,370.3 1065.3,375.9 1092.4,385.5 1119.4,388.1 1146.4,392.9 1173.4,399.0 1200.4,406.7 1227.5,410.1 1254.5,415.4 1281.5,426.3 1308.5,431.6 1335.5,439.0 1362.6,445.9 1389.6,447.2 1416.6,457.6 1443.6,460.2 1470.6,459.8 1497.7,463.9 1524.7,469.2 1551.7,474.0 1578.7,476.9 1605.7,483.6 1632.8,489.7 1659.8,506.4" stroke="#8EBA42"/>
<path d="M1011.3,136.8 1038.3,151.7 1065.3,168.3 1092.4,173.3 1119.4,176.7 1146.4,182.3 1173.4,186.9 1200.4,193.4 1227.5,197.4 1254.5,203.3 1281.5,208.6 1308.5,217.7 1335.5,220.8 1362.6,223.6 1389.6,228.8 1416.6,239.4 1443.6,242.6 1470.6,250.5 1497.7,252.8 1524.7,255.2 1551.7,264.3 1578.7,270.8 1605.7,281.6 1632.8,285.5 1659.8,289.7" stroke="#777777"/>
<path d="M1011.3,252.1 1038.3,265.0 1065.3,266.2 1092.4,275.2 1119.4,281.4 1146.4,285.4 1173.4,295.0 1200.4,297.3 1227.5,310.4 1254.5,315.2 1281.5,325.6 1308.5,333.4 1335.5,337.4 1362.6,344.8 1389.6,350.4 1416.6,356.2 1443.6,359.1 1470.6,366.8 1497.7,373.3 1524.7,377.7 1551.7,386.0 1578.7,395.8 1605.7,407.5 1632.8,421.2 1659.8,448.6" stroke="#988ED5"/>
<path d="M1011.3,333.7 1038.3,344.6 1065.3,349.3 1092.4,362.9 1119.4,373.7 1146.4,383.2 1173.4,383.6 1200.4,389.1 1227.5,393.3 1254.5,397.4 1281.5,396.0 1308.5,403.7 1335.5,407.5 1362.6,411.4 1389.6,420.0 1416.6,429.7 1443.6,427.3 1470.6,434.6 1497.7,437.6 1524.7,438.9 1551.7,439.8 1578.7,443.2 1605.7,451.8 1632.8,456.0 1659.8,475.8" stroke="#8EBA42"/>
<path d="M1011.3,377.4 1038.3,383.2 1065.3,386.0 1092.4,394.6 1119.4,397.7 1146.4,405.2 1173.4,408.7 1200.4,413.9 1227.5,417.4 1254.5,421.6 1281.5,428.2 1308.5,430.2 1335.5,438.0 1362.6,441.9 1389.6,449.5 1416.6,455.3 1443.6,458.0 1470.6,461.6 1497.7,470.4 1524.7,475.7 1551.7,475.5 1578.7,484.1 1605.7,485.8 1632.8,491.8 1659.8,514.1" stroke="#E24A33"/>
<path d="M1011.3,196.2 1038.3,215.6 1065.3,229.6 1092.4,240.1 1119.4,251.5 1146.4,256.5 1173.4,269.6 1200.4,281.2 1227.5,287.9 1254.5,297.9 1281.5,300.6 1308.5,301.8 1335.5,306.5 1362.6,308.4 1389.6,315.3 1416.6,322.8 1443.6,329.9 1470.6,340.1 1497.7,349.9 1524.7,351.5 1551.7,355.2 1578.7,359.3 1605.7,362.4 1632.8,365.5 1659.8,369.0" stroke="#348ABD"/>
<path d="M1011.3,135.8 1038.3,158.2 1065.3,169.7 1092.4,176.6 1119.4,186.6 1146.4,196.1 1173.4,203.2 1200.4,206.3 1227.5,216.6 1254.5,218.7 1281.5,218.7 1308.5,223.7 1335.5,230.5 1362.6,238.0 1389.6,240.6 1416.6,247.1 1443.6,255.1 1470.6,257.3 1497.7,260.8 1524.7,274.5 1551.7,274.5 1578.7,280.4 1605.7,277.2 1632.8,283.0 1659.8,292.1" stroke="#E24A33"/>
<path d="M1011.3,221.0 1038.3,231.0 1065.3,244.3 1092.4,249.3 1119.4,254.4 1146.4,266.3 1173.4,276.3 1200.4,284.9 1227.5,290.5 1254.5,298.3 1281.5,311.3 1308.5,319.7 1335.5,329.3 1362.6,337.3 1389.6,352.9 1416.6,359.6 1443.6,368.1 1470.6,375.7 1497.7,377.8 1524.7,385.4 1551.7,391.2 1578.7,398.0 1605.7,408.9 1632.8,405.3 1659.8,408.8" stroke="#FBC15E"/>
<path d="M1011.3,295.1 1038.3,297.2 1065.3,308.5 1092.4,311.3 1119.4,314.6 1146.4,322.7 1173.4,327.4 1200.4,328.9 1227.5,334.5 1254.5,340.9 1281.5,349.7 1308.5,351.5 1335.5,356.2 1362.6,363.8 1389.6,372.7 1416.6,375.9 1443.6,382.7 1470.6,388.3 1497.7,392.1 1524.7,394.0 1551.7,403.8 1578.7,409.5 1605.7,412.2 1632.8,424.1 1659.8,448.5" stroke="#E24A33"/>
<path d="M1011.3,193.4 1038.3,202.1 1065.3,209.5 1092.4,215.3 1119.4,222.7 1146.4,230.9 1173.4,240.1 1200.4,247.1 1227.5,252.9 1254.5,255.6 1281.5,259.6 1308.5,271.1 1335.5,277.9 1362.6,284.3 1389.6,296.5 1416.6,303.6 1443.6,310.8 1470.6,318.4 1497.7,317.5 1524.7,330.2 1551.7,337.4 1578.7,345.9 1605.7,355.1 1632.8,357.8 1659.8,357.8" stroke="#8EBA42"/>
<path d="M1011.3,179.4 1038.3,190.0 1065.3,199.6 1092.4,211.1 1119.4,221.1 1146.4,232.6 1173.4,235.9 1200.4,246.2 1227.5,246.1 1254.5,256.5 1281.5,262.9 1308.5,271.8 1335.5,276.7 1362.6,279.2 1389.6,287.6 1416.6,294.7 1443.6,303.0 1470.6,305.7 1497.7,310.0 1524.7,313.8 1551.7,316.2 1578.7,317.2 1605.7,323.1 1632.8,330.0 1659.8,340.9" stroke="#E24A33"/>
<path d="M1011.3,262.3 1038.3,273.4 1065.3,281.5 1092.4,289.4 1119.4,297.3 1146.4,307.8 1173.4,318.1 1200.4,321.6 1227.5,324.5 1254.5,334.2 1281.5,342.9 1308.5,348.5 1335.5,352.5 1362.6,354.0 1389.6,360.7 1416.6,365.6 1443.6,371.0 1470.6,375.1 1497.7,384.3 1524.7,387.6 1551.7,396.6 1578.7,405.3 1605.7,413.8 1632.8,425.7 1659.8,449.1" stroke="#777777"/>
<path d="M1011.3,353.7 1038.3,371.4 1065.3,384.2 1092.4,394.5 1119.4,403.9 1146.4,411.5 1173.4,410.0 1200.4,412.6 1227.5,412.6 1254.5,423.6 1281.5,427.6 1308.5,428.2 1335.5,431.6 1362.6,437.5 1389.6,435.1 1416.6,439.6 1443.6,436.8 1470.6,445.4 1497.7,453.4 1524.7,457.9 1551.7,471.8 1578.7,477.3 1605.7,480.6 1632.8,486.7 1659.8,506.5" stroke="#988ED5"/>
<path d="M1011.3,166.7 1038.3,185.4 1065.3,196.9 1092.4,204.9 1119.4,212.8 1146.4,221.4 1173.4,232.7 1200.4,232.6 1227.5,239.6 1254.5,248.1 1281.5,249.6 1308.5,255.0 1335.5,265.5 1362.6,273.2 1389.6,279.7 1416.6,287.3 1443.6,293.0 1470.6,297.8 1497.7,306.0 1524.7,315.2 1551.7,324.2 1578.7,326.5 1605.7,333.9 1632.8,333.1 1659.8,333.1" stroke="#988ED5"/>
<path d="M1011.3,264.4 1038.3,277.7 1065.3,285.5 1092.4,294.4 1119.4,308.0 1146.4,310.8 1173.4,313.7 1200.4,323.2 1227.5,333.1 1254.5,338.1 1281.5,345.2 1308.5,351.6 1335.5,356.0 1362.6,364.6 1389.6,367.1 1416.6,369.6 1443.6,378.6 1470.6,376.8 1497.7,383.6 1524.7,388.5 1551.7,397.2 1578.7,402.3 1605.7,410.8 1632.8,423.6 1659.8,449.0" stroke="#FBC15E"/>
<path d="M1011.3,332.0 1038.3,336.8 1065.3,344.6 1092.4,347.2 1119.4,352.0 1146.4,359.4 1173.4,363.5 1200.4,372.9 1227.5,380.4 1254.5,389.0 1281.5,392.7 1308.5,393.8 1335.5,401.0 1362.6,402.2 1389.6,411.2 1416.6,419.4 1443.6,416.1 1470.6,426.5 1497.7,423.8 1524.7,426.0 1551.7,431.1 1578.7,440.2 1605.7,446.4 1632.8,455.0 1659.8,470.1" stroke="#777777"/>
<path d="M1011.3,162.7 1038.3,168.9 1065.3,177.2 1092.4,187.3 1119.4,193.9 1146.4,203.1 1173.4,211.0 1200.4,214.3 1227.5,221.0 1254.5,230.0 1281.5,231.8 1308.5,240.0 1335.5,247.5 1362.6,255.5 1389.6,261.9 1416.6,264.6 1443.6,270.4 1470.6,276.1 1497.7,281.8 1524.7,288.8 1551.7,293.9 1578.7,293.2 1605.7,301.5 1632.8,308.5 1659.8,318.8" stroke="#FBC15E"/>
<path d="M1011.3,366.4 1038.3,375.2 1065.3,385.1 1092.4,388.8 1119.4,396.3 1146.4,399.9 1173.4,407.6 1200.4,412.0 1227.5,422.2 1254.5,423.9 1281.5,428.7 1308.5,431.9 1335.5,438.1 1362.6,445.0 1389.6,447.5 1416.6,451.9 1443.6,460.0 1470.6,460.1 1497.7,464.3 1524.7,469.7 1551.7,479.8 1578.7,485.3 1605.7,490.7 1632.8,497.3 1659.8,513.7" stroke="#FFB5B8"/>
<path d="M1011.3,288.6 1038.3,297.1 1065.3,303.3 1092.4,307.6 1119.4,314.4 1146.4,320.4 1173.4,329.5 1200.4,335.3 1227.5,337.9 1254.5,345.4 1281.5,348.0 1308.5,351.3 1335.5,359.1 1362.6,361.6 1389.6,368.4 1416.6,374.6 1443.6,378.0 1470.6,388.8 1497.7,391.6 1524.7,392.0 1551.7,393.1 1578.7,399.7 1605.7,406.2 1632.8,419.1 1659.8,448.4" stroke="#FBC15E"/>
<path d="M1011.3,375.7 1038.3,386.0 1065.3,391.5 1092.4,400.5 1119.4,407.8 1146.4,409.0 1173.4,418.3 1200.4,421.6 1227.5,430.2 1254.5,439.9 1281.5,441.9 1308.5,447.3 1335.5,449.9 1362.6,455.5 1389.6,464.7 1416.6,466.2 1443.6,472.8 1470.6,474.3 1497.7,475.0 1524.7,477.8 1551.7,481.8 1578.7,488.5 1605.7,491.5 1632.8,496.4 1659.8,513.6" stroke="#777777"/>
<path d="M1011.3,366.6 1038.3,371.5 1065.3,381.9 1092.4,380.8 1119.4,388.1 1146.4,398.1 1173.4,402.8 1200.4,405.9 1227.5,412.4 1254.5,418.0 1281.5,422.6 1308.5,420.5 1335.5,423.1 1362.6,425.9 1389.6,432.3 1416.6,441.3 1443.6,445.7 1470.6,454.8 1497.7,457.8 1524.7,463.5 1551.7,470.0 1578.7,472.7 1605.7,475.5 1632.8,482.2 1659.8,506.5" stroke="#8EBA42"/>
<path d="M1011.3,218.9 1038.3,235.3 1065.3,249.1 1092.4,262.7 1119.4,276.1 1146.4,285.6 1173.4,296.5 1200.4,301.1 1227.5,310.5 1254.5,312.1 1281.5,319.5 1308.5,324.7 1335.5,331.2 1362.6,341.3 1389.6,342.4 1416.6,347.2 1443.6,352.1 1470.6,351.7 1497.7,361.2 1524.7,373.0 1551.7,380.6 1578.7,382.2 1605.7,385.8 1632.8,390.7 1659.8,409.4" stroke="#988ED5"/>
<path d="M1011.3,271.9 1038.3,281.5 1065.3,292.5 1092.4,299.2 1119.4,305.7 1146.4,313.4 1173.4,320.6 1200.4,324.4 1227.5,330.3 1254.5,339.7 1281.5,347.2 1308.5,351.6 1335.5,360.1 1362.6,361.8 1389.6,371.6 1416.6,377.7 1443.6,377.8 1470.6,385.2 1497.7,391.0 1524.7,395.1 1551.7,403.4 1578.7,404.4 1605.7,411.9 1632.8,426.6 1659.8,452.7" stroke="#348ABD"/>
<path d="M1011.3,342.9 1038.3,349.9 1065.3,361.8 1092.4,359.7 1119.4,370.1 1146.4,374.2 1173.4,382.3 1200.4,381.7 1227.5,387.5 1254.5,393.1 1281.5,399.4 1308.5,407.2 1335.5,410.8 1362.6,416.3 1389.6,424.1 1416.6,433.6 1443.6,440.1 1470.6,453.8 1497.7,458.5 1524.7,462.5 1551.7,466.4 1578.7,468.7 1605.7,477.9 1632.8,484.6 1659.8,500.0" stroke="#777777"/>
<path d="M1011.3,151.7 1038.3,166.7 1065.3,179.0 1092.4,194.1 1119.4,201.7 1146.4,205.8 1173.4,210.6 1200.4,216.6 1227.5,224.5 1254.5,229.2 1281.5,232.4 1308.5,234.5 1335.5,241.2 1362.6,248.6 1389.6,256.5 1416.6,257.6 1443.6,265.3 1470.6,268.1 1497.7,272.0 1524.7,279.5 1551.7,285.0 1578.7,287.9 1605.7,295.7 1632.8,301.8 1659.8,303.1" stroke="#E24A33"/>
<path d="M1011.3,109.9 1038.3,148.7 1065.3,166.1 1092.4,177.6 1119.4,186.0 1146.4,190.9 1173.4,193.7 1200.4,201.5 1227.5,209.5 1254.5,220.0 1281.5,220.7 1308.5,223.8 1335.5,227.6 1362.6,234.9 1389.6,238.1 1416.6,239.6 1443.6,236.0 1470.6,239.3 1497.7,240.6 1524.7,240.9 1551.7,238.4 1578.7,242.0 1605.7,246.1 1632.8,252.0 1659.8,257.3" stroke="#8EBA42"/>
<path d="M1011.3,146.7 1038.3,166.2 1065.3,176.8 1092.4,184.5 1119.4,193.3 1146.4,200.7 1173.4,202.5 1200.4,208.5 1227.5,214.0 1254.5,222.9 1281.5,226.2 1308.5,227.5 1335.5,237.0 1362.6,242.3 1389.6,242.7 1416.6,252.8 1443.6,255.5 1470.6,259.8 1497.7,267.8 1524.7,275.3 1551.7,280.3 1578.7,290.8 1605.7,294.9 1632.8,300.5 1659.8,300.5" stroke="#8EBA42"/>
<path d="M1011.3,206.8 1038.3,222.7 1065.3,236.2 1092.4,246.5 1119.4,258.0 1146.4,265.7 1173.4,277.9 1200.4,286.1 1227.5,293.0 1254.5,301.9 1281.5,307.0 1308.5,317.9 1335.5,325.1 1362.6,331.1 1389.6,340.6 1416.6,347.3 1443.6,356.6 1470.6,367.0 1497.7,371.6 1524.7,376.3 1551.7,382.8 1578.7,388.9 1605.7,393.9 1632.8,392.6 1659.8,392.6" stroke="#988ED5"/>
<path d="M1011.3,157.6 1038.3,164.7 1065.3,171.4 1092.4,176.2 1119.4,185.1 1146.4,193.8 1173.4,202.9 1200.4,204.4 1227.5,207.1 1254.5,219.6 1281.5,223.1 1308.5,237.3 1335.5,240.4 1362.6,249.0 1389.6,254.1 1416.6,256.5 1443.6,268.6 1470.6,272.5 1497.7,277.5 1524.7,279.8 1551.7,286.5 1578.7,290.5 1605.7,296.0 1632.8,302.1 1659.8,318.2" stroke="#777777"/>
<path d="M1011.3,202.3 1038.3,220.8 1065.3,231.7 1092.4,242.9 1119.4,254.8 1146.4,263.7 1173.4,272.6 1200.4,278.5 1227.5,288.0 1254.5,293.5 1281.5,296.4 1308.5,301.3 1335.5,310.4 1362.6,313.5 1389.6,317.5 1416.6,323.5 1443.6,325.5 1470.6,330.8 1497.7,337.7 1524.7,347.9 1551.7,356.4 1578.7,360.0 1605.7,366.7 1632.8,375.6 1659.8,375.6" stroke="#777777"/>
<path d="M1011.3,340.4 1038.3,358.2 1065.3,374.3 1092.4,385.6 1119.4,399.1 1146.4,404.0 1173.4,407.1 1200.4,412.8 1227.5,414.9 1254.5,421.3 1281.5,424.8 1308.5,428.1 1335.5,430.5 1362.6,434.9 1389.6,438.8 1416.6,439.7 1443.6,445.4 1470.6,448.3 1497.7,454.4 1524.7,456.7 1551.7,464.7 1578.7,472.1 1605.7,473.0 1632.8,481.6 1659.8,496.6" stroke="#E24A33"/>
<path d="M1011.3,203.4 1038.3,225.7 1065.3,236.4 1092.4,248.2 1119.4,256.1 1146.4,260.0 1173.4,264.9 1200.4,276.6 1227.5,277.7 1254.5,285.2 1281.5,288.8 1308.5,293.1 1335.5,293.3 1362.6,297.4 1389.6,306.7 1416.6,313.1 1443.6,324.9 1470.6,328.0 1497.7,329.3 1524.7,342.2 1551.7,351.0 1578.7,354.2 1605.7,366.2 1632.8,372.4 1659.8,383.9" stroke="#348ABD"/>
<path d="M1011.3,213.9 1038.3,233.7 1065.3,244.0 1092.4,253.6 1119.4,265.2 1146.4,276.2 1173.4,287.9 1200.4,297.5 1227.5,307.9 1254.5,319.3 1281.5,323.6 1308.5,328.8 1335.5,334.0 1362.6,348.1 1389.6,353.8 1416.6,359.3 1443.6,366.6 1470.6,367.4 1497.7,374.6 1524.7,380.5 1551.7,386.7 1578.7,390.4 1605.7,395.5 1632.8,397.9 1659.8,408.8" stroke="#348ABD"/>
<path d="M1011.3,282.0 1038.3,289.0 1065.3,299.3 1092.4,303.5 1119.4,309.8 1146.4,322.0 1173.4,328.3 1200.4,329.5 1227.5,336.5 1254.5,339.9 1281.5,346.3 1308.5,356.2 1335.5,362.0 1362.6,366.1 1389.6,371.9 1416.6,373.0 1443.6,377.5 1470.6,382.9 1497.7,393.0 1524.7,397.2 1551.7,399.7 1578.7,408.3 1605.7,412.5 1632.8,432.7 1659.8,454.3" stroke="#8EBA42"/>
<path d="M1011.3,189.5 1038.3,193.8 1065.3,197.3 1092.4,204.7 1119.4,217.1 1146.4,223.9 1173.4,232.2 1200.4,236.3 1227.5,232.5 1254.5,244.8 1281.5,253.5 1308.5,262.9 1335.5,266.4 1362.6,271.3 1389.6,280.9 1416.6,289.6 1443.6,296.4 1470.6,303.9 1497.7,310.5 1524.7,318.4 1551.7,324.3 1578.7,334.9 1605.7,338.3 1632.8,338.7 1659.8,348.5" stroke="#988ED5"/>
<path d="M1011.3,391.6 1038.3,393.1 1065.3,401.5 1092.4,409.3 1119.4,408.0 1146.4,410.7 1173.4,415.8 1200.4,419.8 1227.5,427.3 1254.5,427.0 1281.5,434.6 1308.5,436.2 1335.5,439.4 1362.6,441.2 1389.6,447.3 1416.6,450.3 1443.6,453.6 1470.6,465.5 1497.7,472.9 1524.7,471.3 1551.7,480.8 1578.7,486.8 1605.7,493.9 1632.8,500.7 1659.8,523.2" stroke="#FBC15E"/>
<path d="M1011.3,142.3 1038.3,161.5 1065.3,168.9 1092.4,170.9 1119.4,180.6 1146.4,188.6 1173.4,199.1 1200.4,211.8 1227.5,213.5 1254.5,221.8 1281.5,231.6 1308.5,231.0 1335.5,234.3 1362.6,239.7 1389.6,239.4 1416.6,248.3 1443.6,252.8 1470.6,260.8 1497.7,269.5 1524.7,274.3 1551.7,274.4 1578.7,281.8 1605.7,285.8 1632.8,286.0 1659.8,300.8" stroke="#E24A33"/>
<path d="M1011.3,239.2 1038.3,252.5 1065.3,261.8 1092.4,274.0 1119.4,279.3 1146.4,285.4 1173.4,292.4 1200.4,296.4 1227.5,302.5 1254.5,315.2 1281.5,320.0 1308.5,322.2 1335.5,329.6 1362.6,339.7 1389.6,353.4 1416.6,357.2 1443.6,363.8 1470.6,372.4 1497.7,378.8 1524.7,389.8 1551.7,392.8 1578.7,400.1 1605.7,411.4 1632.8,420.3 1659.8,435.3" stroke="#777777"/>
<path d="M1011.3,118.4 1038.3,145.8 1065.3,161.4 1092.4,172.1 1119.4,174.7 1146.4,184.1 1173.4,192.6 1200.4,194.5 1227.5,197.3 1254.5,200.8 1281.5,206.0 1308.5,209.9 1335.5,213.3 1362.6,213.8 1389.6,222.1 1416.6,229.5 1443.6,233.7 1470.6,237.0 1497.7,247.7 1524.7,247.1 1551.7,248.9 1578.7,251.6 1605.7,257.3 1632.8,257.6 1659.8,265.2" stroke="#988ED5"/>
<path d="M1011.3,335.5 1038.3,339.6 1065.3,346.3 1092.4,357.1 1119.4,361.5 1146.4,368.3 1173.4,374.4 1200.4,376.4 1227.5,377.4 1254.5,382.3 1281.5,384.9 1308.5,389.7 1335.5,395.7 1362.6,396.9 1389.6,401.9 1416.6,413.3 1443.6,418.9 1470.6,421.5 1497.7,429.2 1524.7,434.9 1551.7,441.6 1578.7,446.7 1605.7,448.0 1632.8,451.7 1659.8,470.4" stroke="#988ED5"/>
<path d="M1011.3,136.2 1038.3,157.8 1065.3,169.9 1092.4,179.1 1119.4,178.8 1146.4,189.7 1173.4,192.8 1200.4,197.5 1227.5,201.0 1254.5,204.3 1281.5,213.2 1308.5,214.1 1335.5,224.8 1362.6,234.3 1389.6,238.0 1416.6,253.3 1443.6,252.6 1470.6,256.2 1497.7,257.8 1524.7,265.9 1551.7,272.1 1578.7,276.7 1605.7,280.9 1632.8,287.9 1659.8,297.5" stroke="#348ABD"/>
<path d="M1011.3,132.8 1038.3,151.0 1065.3,161.7 1092.4,165.2 1119.4,172.9 1146.4,176.2 1173.4,180.6 1200.4,184.8 1227.5,189.4 1254.5,194.2 1281.5,196.4 1308.5,206.1 1335.5,215.6 1362.6,218.6 1389.6,222.7 1416.6,225.8 1443.6,235.8 1470.6,242.6 1497.7,253.3 1524.7,256.4 1551.7,261.1 1578.7,265.4 1605.7,267.8 1632.8,268.1 1659.8,278.0" stroke="#348ABD"/>
<path d="M1011.3,359.5 1038.3,369.8 1065.3,380.5 1092.4,388.2 1119.4,395.4 1146.4,405.1 1173.4,416.1 1200.4,410.4 1227.5,416.5 1254.5,425.0 1281.5,430.4 1308.5,439.6 1335.5,443.0 1362.6,452.8 1389.6,448.8 1416.6,449.5 1443.6,452.1 1470.6,455.4 1497.7,463.2 1524.7,466.8 1551.7,470.1 1578.7,473.6 1605.7,476.4 1632.8,483.1 1659.8,506.5" stroke="#348ABD"/>
<path d="M1011.3,338.5 1038.3,347.2 1065.3,353.4 1092.4,358.6 1119.4,366.1 1146.4,369.9 1173.4,378.1 1200.4,383.9 1227.5,386.7 1254.5,387.9 1281.5,394.9 1308.5,404.1 1335.5,407.5 1362.6,410.3 1389.6,413.3 1416.6,413.7 1443.6,419.8 1470.6,427.4 1497.7,426.6 1524.7,434.1 1551.7,442.5 1578.7,451.2 1605.7,457.3 1632.8,466.3 1659.8,491.0" stroke="#777777"/>
<path d="M1011.3,168.9 1038.3,180.4 1065.3,193.2 1092.4,203.9 1119.4,210.0 1146.4,220.3 1173.4,230.3 1200.4,241.3 1227.5,242.0 1254.5,252.2 1281.5,255.5 1308.5,261.1 1335.5,266.1 1362.6,269.9 1389.6,275.8 1416.6,280.9 1443.6,284.5 1470.6,290.1 1497.7,291.1 1524.7,297.9 1551.7,308.1 1578.7,315.9 1605.7,317.9 1632.8,320.3 1659.8,320.3" stroke="#777777"/>
<path d="M1011.3,98.5 1038.3,125.5 1065.3,142.4 1092.4,136.8 1119.4,136.1 1146.4,147.6 1173.4,174.3 1200.4,187.5 1227.5,186.1 1254.5,189.6 1281.5,193.2 1308.5,199.1 1335.5,200.8 1362.6,203.8 1389.6,207.4 1416.6,210.9 1443.6,214.4 1470.6,218.0 1497.7,221.5 1524.7,226.7 1551.7,231.0 1578.7,235.9 1605.7,240.6 1632.8,243.9 1659.8,250.3" stroke="#348ABD"/>
<path d="M1011.3,180.0 1038.3,193.8 1065.3,203.7 1092.4,211.6 1119.4,221.7 1146.4,229.8 1173.4,241.3 1200.4,250.5 1227.5,254.6 1254.5,264.5 1281.5,272.2 1308.5,272.4 1335.5,276.9 1362.6,281.3 1389.6,290.7 1416.6,296.3 1443.6,303.1 1470.6,305.2 1497.7,313.9 1524.7,319.5 1551.7,325.2 1578.7,330.6 1605.7,336.8 1632.8,338.6 1659.8,341.0" stroke="#FBC15E"/>
<path d="M1011.3,401.1 1038.3,410.9 1065.3,413.2 1092.4,417.7 1119.4,416.7 1146.4,424.8 1173.4,425.7 1200.4,434.0 1227.5,436.5 1254.5,438.5 1281.5,443.4 1308.5,452.2 1335.5,451.4 1362.6,457.6 1389.6,462.2 1416.6,467.6 1443.6,473.2 1470.6,479.4 1497.7,493.6 1524.7,485.7 1551.7,485.0 1578.7,488.0 1605.7,494.9 1632.8,503.5 1659.8,530.8" stroke="#E24A33"/>
<path d="M1011.3,233.8 1038.3,252.1 1065.3,268.0 1092.4,277.6 1119.4,285.6 1146.4,291.7 1173.4,296.7 1200.4,308.0 1227.5,310.8 1254.5,319.3 1281.5,325.0 1308.5,327.2 1335.5,336.6 1362.6,341.8 1389.6,346.5 1416.6,355.3 1443.6,360.6 1470.6,368.3 1497.7,380.2 1524.7,386.4 1551.7,392.4 1578.7,399.3 1605.7,406.1 1632.8,402.1 1659.8,410.8" stroke="#FBC15E"/>
<path d="M1011.3,190.6 1038.3,212.3 1065.3,227.3 1092.4,244.9 1119.4,249.9 1146.4,253.0 1173.4,265.2 1200.4,274.5 1227.5,281.2 1254.5,288.3 1281.5,289.9 1308.5,293.1 1335.5,295.7 1362.6,298.3 1389.6,302.2 1416.6,307.8 1443.6,310.1 1470.6,309.7 1497.7,321.1 1524.7,322.7 1551.7,333.1 1578.7,334.7 1605.7,343.0 1632.8,348.1 1659.8,361.1" stroke="#E24A33"/>
<path d="M1011.3,150.1 1038.3,155.1 1065.3,161.5 1092.4,169.0 1119.4,174.0 1146.4,179.7 1173.4,185.7 1200.4,194.4 1227.5,201.2 1254.5,206.3 1281.5,216.1 1308.5,219.7 1335.5,227.0 1362.6,234.8 1389.6,240.4 1416.6,244.3 1443.6,250.6 1470.6,254.9 1497.7,256.3 1524.7,266.3 1551.7,269.4 1578.7,280.6 1605.7,287.1 1632.8,295.4 1659.8,302.9" stroke="#777777"/>
<path d="M1011.3,176.7 1038.3,183.5 1065.3,194.9 1092.4,207.7 1119.4,212.5 1146.4,226.9 1173.4,229.7 1200.4,240.6 1227.5,243.8 1254.5,248.9 1281.5,254.4 1308.5,258.9 1335.5,262.9 1362.6,268.5 1389.6,273.2 1416.6,273.2 1443.6,278.3 1470.6,286.4 1497.7,296.2 1524.7,304.9 1551.7,310.0 1578.7,315.8 1605.7,323.1 1632.8,325.9 1659.8,338.5" stroke="#8EBA42"/>
<path d="M1011.3,236.3 1038.3,251.3 1065.3,264.2 1092.4,274.0 1119.4,283.2 1146.4,292.7 1173.4,301.7 1200.4,312.3 1227.5,323.1 1254.5,323.1 1281.5,330.2 1308.5,336.6 1335.5,337.4 1362.6,345.0 1389.6,355.8 1416.6,364.3 1443.6,371.3 1470.6,377.8 1497.7,382.4 1524.7,391.8 1551.7,397.6 1578.7,399.8 1605.7,406.1 1632.8,417.5 1659.8,432.0" stroke="#8EBA42"/>
<path d="M1011.3,344.9 1038.3,358.3 1065.3,365.4 1092.4,368.3 1119.4,372.8 1146.4,379.2 1173.4,391.2 1200.4,394.1 1227.5,398.2 1254.5,403.4 1281.5,407.8 1308.5,410.4 1335.5,418.5 1362.6,423.1 1389.6,430.1 1416.6,433.7 1443.6,435.6 1470.6,441.9 1497.7,448.5 1524.7,451.4 1551.7,454.6 1578.7,466.1 1605.7,472.2 1632.8,477.2 1659.8,501.6" stroke="#FFB5B8"/>
<path d="M1011.3,196.1 1038.3,210.5 1065.3,214.3 1092.4,222.7 1119.4,232.5 1146.4,239.6 1173.4,253.5 1200.4,262.6 1227.5,268.0 1254.5,277.0 1281.5,279.3 1308.5,292.2 1335.5,297.3 1362.6,310.1 1389.6,316.7 1416.6,321.9 1443.6,330.6 1470.6,339.5 1497.7,345.5 1524.7,351.8 1551.7,357.9 1578.7,366.6 1605.7,374.3 1632.8,372.7 1659.8,372.7" stroke="#FFB5B8"/>
<path d="M1011.3,257.7 1038.3,267.2 1065.3,274.6 1092.4,279.7 1119.4,291.3 1146.4,295.5 1173.4,302.5 1200.4,312.1 1227.5,323.9 1254.5,333.2 1281.5,333.1 1308.5,343.0 1335.5,340.5 1362.6,348.2 1389.6,352.4 1416.6,353.6 1443.6,361.5 1470.6,366.1 1497.7,372.7 1524.7,382.1 1551.7,385.4 1578.7,397.8 1605.7,407.6 1632.8,423.0 1659.8,448.5" stroke="#988ED5"/>
<path d="M1011.3,110.8 1038.3,138.2 1065.3,152.8 1092.4,156.5 1119.4,160.6 1146.4,165.1 1173.4,169.2 1200.4,171.4 1227.5,177.2 1254.5,183.1 1281.5,188.3 1308.5,193.6 1335.5,203.0 1362.6,205.0 1389.6,205.4 1416.6,215.0 1443.6,217.2 1470.6,221.1 1497.7,220.8 1524.7,224.9 1551.7,235.7 1578.7,240.4 1605.7,247.8 1632.8,252.6 1659.8,254.4" stroke="#988ED5"/>
<path d="M1011.3,275.2 1038.3,284.6 1065.3,294.3 1092.4,297.6 1119.4,305.3 1146.4,312.7 1173.4,312.3 1200.4,318.8 1227.5,329.1 1254.5,340.4 1281.5,347.4 1308.5,353.4 1335.5,355.8 1362.6,361.7 1389.6,367.5 1416.6,368.9 1443.6,375.2 1470.6,378.7 1497.7,387.0 1524.7,390.9 1551.7,396.2 1578.7,405.2 1605.7,411.7 1632.8,430.8 1659.8,453.1" stroke="#FFB5B8"/>
<path d="M1011.3,155.6 1038.3,171.3 1065.3,185.7 1092.4,197.1 1119.4,211.5 1146.4,217.6 1173.4,223.9 1200.4,230.1 1227.5,237.7 1254.5,241.3 1281.5,245.9 1308.5,252.7 1335.5,254.9 1362.6,259.6 1389.6,267.0 1416.6,277.0 1443.6,278.8 1470.6,286.0 1497.7,288.4 1524.7,298.3 1551.7,303.5 1578.7,304.7 1605.7,310.6 1632.8,311.8 1659.8,312.4" stroke="#FFB5B8"/>
<path d="M1011.3,172.2 1038.3,178.4 1065.3,182.2 1092.4,188.0 1119.4,200.5 1146.4,209.1 1173.4,215.1 1200.4,225.3 1227.5,235.4 1254.5,240.6 1281.5,249.9 1308.5,260.1 1335.5,266.2 1362.6,273.9 1389.6,280.1 1416.6,287.6 1443.6,293.1 1470.6,303.4 1497.7,312.4 1524.7,319.5 1551.7,324.1 1578.7,330.1 1605.7,330.4 1632.8,336.6 1659.8,336.9" stroke="#FFB5B8"/>
<path d="M1011.3,211.1 1038.3,225.3 1065.3,233.9 1092.4,241.1 1119.4,251.3 1146.4,255.2 1173.4,262.4 1200.4,266.4 1227.5,277.5 1254.5,284.4 1281.5,293.5 1308.5,305.9 1335.5,315.4 1362.6,322.0 1389.6,326.7 1416.6,332.4 1443.6,337.1 1470.6,345.6 1497.7,356.6 1524.7,368.1 1551.7,377.7 1578.7,387.6 1605.7,397.6 1632.8,401.3 1659.8,403.4" stroke="#777777"/>
<path d="M1011.3,323.2 1038.3,327.9 1065.3,331.4 1092.4,335.5 1119.4,340.6 1146.4,346.0 1173.4,352.5 1200.4,359.8 1227.5,366.1 1254.5,375.3 1281.5,381.9 1308.5,387.2 1335.5,390.6 1362.6,393.2 1389.6,395.8 1416.6,400.4 1443.6,404.3 1470.6,413.9 1497.7,418.5 1524.7,419.8 1551.7,422.4 1578.7,428.4 1605.7,438.6 1632.8,456.7 1659.8,456.4" stroke="#348ABD"/>
<path d="M1011.3,129.1 1038.3,147.2 1065.3,157.9 1092.4,165.5 1119.4,173.8 1146.4,178.1 1173.4,183.6 1200.4,184.4 1227.5,188.6 1254.5,195.4 1281.5,200.2 1308.5,202.9 1335.5,208.8 1362.6,211.7 1389.6,217.1 1416.6,222.9 1443.6,228.5 1470.6,234.5 1497.7,235.4 1524.7,237.6 1551.7,246.8 1578.7,252.1 1605.7,255.2 1632.8,262.3 1659.8,272.3" stroke="#E24A33"/>
<path d="M1011.3,404.2 1038.3,412.0 1065.3,423.5 1092.4,426.5 1119.4,427.8 1146.4,430.9 1173.4,436.0 1200.4,440.2 1227.5,441.5 1254.5,446.3 1281.5,453.1 1308.5,456.5 1335.5,457.6 1362.6,458.2 1389.6,468.5 1416.6,472.7 1443.6,479.7 1470.6,484.1 1497.7,488.2 1524.7,494.0 1551.7,496.2 1578.7,498.9 1605.7,504.4 1632.8,524.3 1659.8,544.1" stroke="#8EBA42"/>
</g>
<path d="M1011.30 547.70v5.3M1146.40 547.70v5.3M1281.50 547.70v5.3M1416.60 547.70v5.3M1551.70 547.70v5.3M1686.80 547.70v5.3M978.00 513.70h-5.3M978.00 447.80h-5.3M978.00 381.90h-5.3M978.00 316.00h-5.3M978.00 250.10h-5.3M978.00 184.20h-5.3M978.00 118.30h-5.3M978.00 52.40h-5.3" stroke="#555" stroke-width="1.5" fill="none"/>
<g font-family="DejaVu Sans, sans-serif" font-size="27.9" fill="#555">
<text x="1011.30" y="580.80" text-anchor="middle">0</text>
<text x="1146.40" y="580.80" text-anchor="middle">5</text>
<text x="1281.50" y="580.80" text-anchor="middle">10</text>
<text x="1416.60" y="580.80" text-anchor="middle">15</text>
<text x="1551.70" y="580.80" text-anchor="middle">20</text>
<text x="1686.80" y="580.80" text-anchor="middle">25</text>
<text x="966.40" y="523.90" text-anchor="end">−2</text>
<text x="966.40" y="458.00" text-anchor="end">0</text>
<text x="966.40" y="392.10" text-anchor="end">2</text>
<text x="966.40" y="326.20" text-anchor="end">4</text>
<text x="966.40" y="260.30" text-anchor="end">6</text>
<text x="966.40" y="194.40" text-anchor="end">8</text>
<text x="966.40" y="128.50" text-anchor="end">10</text>
<text x="966.40" y="62.60" text-anchor="end">12</text>
<text x="1335.65" y="615.50" text-anchor="middle">num of shift intervals</text>
<text transform="translate(911.70,299.60) rotate(-90)" text-anchor="middle">original predicted values</text>
</g>
<g font-family="DejaVu Sans, sans-serif" font-size="27.9" fill="#000">
<text x="1335.65" y="41.25" text-anchor="middle">CNN test on first 100 examples</text>
<text x="1356.40" y="101.00">slope: -0.165±0.024</text>
</g>
</g>
<g>
<rect x="544.40" y="783.00" width="711.50" height="492.40" fill="#E5E5E5"/>
<path d="M575.80 783.00V1275.40M710.90 783.00V1275.40M846.00 783.00V1275.40M981.10 783.00V1275.40M1116.20 783.00V1275.40M1251.30 783.00V1275.40M544.40 1243.30H1255.90M544.40 1177.40H1255.90M544.40 1111.50H1255.90M544.40 1045.60H1255.90M544.40 979.70H1255.90M544.40 913.80H1255.90M544.40 847.90H1255.90M544.40 782.00H1255.90" stroke="#fff" stroke-width="1.6" fill="none"/>
<g clip-path="url(#c2)" fill="none" stroke-width="3.2" stroke-linejoin="round" stroke-linecap="square">
<path d="M575.8,925.3 602.8,930.4 629.8,935.5 656.9,940.6 683.9,945.7 710.9,950.7 737.9,955.8 764.9,960.9 792.0,966.0 819.0,971.1 846.0,976.2 873.0,981.3 900.0,986.4 927.1,991.5 954.1,996.5 981.1,1001.6 1008.1,1006.7 1035.1,1011.8 1062.2,1016.9 1089.2,1022.0 1116.2,1027.1 1143.2,1032.2 1170.2,1037.3 1197.3,1042.3 1224.3,1047.4" stroke="#988ED5"/>
<path d="M575.8,992.2 602.8,997.0 629.8,1001.9 656.9,1006.8 683.9,1011.7 710.9,1016.6 737.9,1021.4 764.9,1026.4 792.0,1031.2 819.0,1036.1 846.0,1041.0 873.0,1045.9 900.0,1050.8 927.1,1055.6 954.1,1060.6 981.1,1065.4 1008.1,1070.3 1035.1,1075.2 1062.2,1080.1 1089.2,1085.0 1116.2,1089.9 1143.2,1094.7 1170.2,1099.6 1197.3,1104.5 1224.3,1109.4" stroke="#E24A33"/>
<path d="M575.8,1083.8 602.8,1088.8 629.8,1093.7 656.9,1098.6 683.9,1103.5 710.9,1108.3 737.9,1113.1 764.9,1117.8 792.0,1122.4 819.0,1127.0 846.0,1131.5 873.0,1136.0 900.0,1140.4 927.1,1144.8 954.1,1149.1 981.1,1153.3 1008.1,1157.6 1035.1,1161.7 1062.2,1165.8 1089.2,1169.9 1116.2,1173.8 1143.2,1177.8 1170.2,1181.6 1197.3,1185.4 1224.3,1189.2" stroke="#988ED5"/>
<path d="M575.8,865.7 602.8,870.7 629.8,875.6 656.9,880.6 683.9,885.5 710.9,890.5 737.9,895.4 764.9,900.4 792.0,905.3 819.0,910.3 846.0,915.2 873.0,920.2 900.0,925.2 927.1,930.1 954.1,935.1 981.1,940.0 1008.1,945.0 1035.1,949.9 1062.2,954.9 1089.2,959.9 1116.2,964.8 1143.2,969.8 1170.2,974.7 1197.3,979.7 1224.3,984.6" stroke="#988ED5"/>
<path d="M575.8,859.9 602.8,864.9 629.8,869.9 656.9,874.9 683.9,879.9 710.9,884.8 737.9,889.8 764.9,894.8 792.0,899.8 819.0,904.8 846.0,909.8 873.0,914.8 900.0,919.8 927.1,924.8 954.1,929.8 981.1,934.8 1008.1,939.8 1035.1,944.7 1062.2,949.7 1089.2,954.7 1116.2,959.7 1143.2,964.7 1170.2,969.7 1197.3,974.7 1224.3,979.7" stroke="#E24A33"/>
<path d="M575.8,1084.2 602.8,1089.3 629.8,1094.3 656.9,1099.2 683.9,1104.2 710.9,1109.0 737.9,1113.8 764.9,1118.5 792.0,1123.2 819.0,1127.8 846.0,1132.4 873.0,1136.9 900.0,1141.4 927.1,1145.8 954.1,1150.1 981.1,1154.4 1008.1,1158.7 1035.1,1162.8 1062.2,1167.0 1089.2,1171.0 1116.2,1175.1 1143.2,1179.0 1170.2,1182.9 1197.3,1186.8 1224.3,1190.6" stroke="#777777"/>
<path d="M575.8,954.7 602.8,959.7 629.8,964.6 656.9,969.6 683.9,974.5 710.9,979.5 737.9,984.4 764.9,989.4 792.0,994.3 819.0,999.3 846.0,1004.2 873.0,1009.2 900.0,1014.1 927.1,1019.1 954.1,1024.1 981.1,1029.0 1008.1,1034.0 1035.1,1038.9 1062.2,1043.9 1089.2,1048.8 1116.2,1053.8 1143.2,1058.7 1170.2,1063.7 1197.3,1068.6 1224.3,1073.6" stroke="#8EBA42"/>
<path d="M575.8,891.0 602.8,895.8 629.8,900.7 656.9,905.5 683.9,910.4 710.9,915.2 737.9,920.1 764.9,924.9 792.0,929.7 819.0,934.6 846.0,939.4 873.0,944.2 900.0,949.1 927.1,953.9 954.1,958.8 981.1,963.6 1008.1,968.5 1035.1,973.3 1062.2,978.2 1089.2,983.0 1116.2,987.8 1143.2,992.7 1170.2,997.5 1197.3,1002.3 1224.3,1007.2" stroke="#E24A33"/>
<path d="M575.8,1119.8 602.8,1124.5 629.8,1129.2 656.9,1133.8 683.9,1138.4 710.9,1142.9 737.9,1147.3 764.9,1151.7 792.0,1156.1 819.0,1160.4 846.0,1164.6 873.0,1168.8 900.0,1173.0 927.1,1177.0 954.1,1181.0 981.1,1185.0 1008.1,1188.9 1035.1,1192.8 1062.2,1196.5 1089.2,1200.3 1116.2,1204.0 1143.2,1207.6 1170.2,1211.2 1197.3,1214.7 1224.3,1218.2" stroke="#E24A33"/>
<path d="M575.8,1120.9 602.8,1125.6 629.8,1130.2 656.9,1134.9 683.9,1139.4 710.9,1143.9 737.9,1148.3 764.9,1152.7 792.0,1157.0 819.0,1161.3 846.0,1165.5 873.0,1169.7 900.0,1173.8 927.1,1177.8 954.1,1181.8 981.1,1185.8 1008.1,1189.7 1035.1,1193.5 1062.2,1197.3 1089.2,1201.0 1116.2,1204.6 1143.2,1208.3 1170.2,1211.8 1197.3,1215.3 1224.3,1218.8" stroke="#E24A33"/>
<path d="M575.8,949.0 602.8,953.9 629.8,958.8 656.9,963.7 683.9,968.6 710.9,973.5 737.9,978.4 764.9,983.3 792.0,988.2 819.0,993.1 846.0,998.0 873.0,1002.9 900.0,1007.8 927.1,1012.7 954.1,1017.6 981.1,1022.4 1008.1,1027.3 1035.1,1032.3 1062.2,1037.1 1089.2,1042.0 1116.2,1046.9 1143.2,1051.8 1170.2,1056.7 1197.3,1061.6 1224.3,1066.5" stroke="#777777"/>
<path d="M575.8,977.8 602.8,982.7 629.8,987.7 656.9,992.6 683.9,997.6 710.9,1002.5 737.9,1007.5 764.9,1012.4 792.0,1017.4 819.0,1022.3 846.0,1027.3 873.0,1032.2 900.0,1037.2 927.1,1042.1 954.1,1047.0 981.1,1052.0 1008.1,1056.9 1035.1,1061.9 1062.2,1066.9 1089.2,1071.8 1116.2,1076.7 1143.2,1081.7 1170.2,1086.6 1197.3,1091.6 1224.3,1096.5" stroke="#988ED5"/>
<path d="M575.8,1079.5 602.8,1084.6 629.8,1089.6 656.9,1094.6 683.9,1099.5 710.9,1104.3 737.9,1109.2 764.9,1113.9 792.0,1118.6 819.0,1123.3 846.0,1127.8 873.0,1132.4 900.0,1136.8 927.1,1141.3 954.1,1145.6 981.1,1150.0 1008.1,1154.2 1035.1,1158.4 1062.2,1162.6 1089.2,1166.7 1116.2,1170.7 1143.2,1174.7 1170.2,1178.6 1197.3,1182.5 1224.3,1186.3" stroke="#988ED5"/>
<path d="M575.8,893.9 602.8,898.6 629.8,903.3 656.9,908.0 683.9,912.7 710.9,917.5 737.9,922.2 764.9,926.9 792.0,931.6 819.0,936.3 846.0,941.0 873.0,945.7 900.0,950.4 927.1,955.2 954.1,959.9 981.1,964.6 1008.1,969.3 1035.1,974.0 1062.2,978.7 1089.2,983.4 1116.2,988.1 1143.2,992.8 1170.2,997.6 1197.3,1002.3 1224.3,1007.0" stroke="#FBC15E"/>
<path d="M575.8,1076.2 602.8,1081.3 629.8,1086.3 656.9,1091.2 683.9,1096.1 710.9,1101.0 737.9,1105.7 764.9,1110.5 792.0,1115.2 819.0,1119.8 846.0,1124.4 873.0,1128.8 900.0,1133.3 927.1,1137.7 954.1,1142.0 981.1,1146.4 1008.1,1150.6 1035.1,1154.8 1062.2,1158.9 1089.2,1163.0 1116.2,1167.0 1143.2,1170.9 1170.2,1174.9 1197.3,1178.7 1224.3,1182.5" stroke="#FBC15E"/>
<path d="M575.8,986.9 602.8,991.9 629.8,996.9 656.9,1001.9 683.9,1006.9 710.9,1011.8 737.9,1016.8 764.9,1021.8 792.0,1026.8 819.0,1031.8 846.0,1036.8 873.0,1041.7 900.0,1046.8 927.1,1051.7 954.1,1056.7 981.1,1061.7 1008.1,1066.7 1035.1,1071.7 1062.2,1076.7 1089.2,1081.6 1116.2,1086.7 1143.2,1091.6 1170.2,1096.6 1197.3,1101.6 1224.3,1106.6" stroke="#E24A33"/>
<path d="M575.8,922.7 602.8,927.8 629.8,932.9 656.9,938.0 683.9,943.0 710.9,948.1 737.9,953.2 764.9,958.2 792.0,963.3 819.0,968.4 846.0,973.5 873.0,978.5 900.0,983.6 927.1,988.7 954.1,993.8 981.1,998.8 1008.1,1003.9 1035.1,1009.0 1062.2,1014.1 1089.2,1019.1 1116.2,1024.2 1143.2,1029.3 1170.2,1034.4 1197.3,1039.4 1224.3,1044.5" stroke="#777777"/>
<path d="M575.8,978.2 602.8,983.1 629.8,988.0 656.9,993.0 683.9,998.0 710.9,1002.9 737.9,1007.9 764.9,1012.8 792.0,1017.8 819.0,1022.7 846.0,1027.7 873.0,1032.6 900.0,1037.6 927.1,1042.5 954.1,1047.5 981.1,1052.4 1008.1,1057.4 1035.1,1062.3 1062.2,1067.3 1089.2,1072.2 1116.2,1077.2 1143.2,1082.1 1170.2,1087.1 1197.3,1092.1 1224.3,1097.0" stroke="#FBC15E"/>
<path d="M575.8,969.6 602.8,974.6 629.8,979.6 656.9,984.7 683.9,989.7 710.9,994.7 737.9,999.7 764.9,1004.7 792.0,1009.7 819.0,1014.7 846.0,1019.7 873.0,1024.7 900.0,1029.8 927.1,1034.8 954.1,1039.8 981.1,1044.8 1008.1,1049.8 1035.1,1054.8 1062.2,1059.8 1089.2,1064.8 1116.2,1069.9 1143.2,1074.9 1170.2,1079.9 1197.3,1084.9 1224.3,1089.9" stroke="#E24A33"/>
<path d="M575.8,878.2 602.8,883.4 629.8,888.5 656.9,893.6 683.9,898.7 710.9,903.8 737.9,908.9 764.9,914.0 792.0,919.1 819.0,924.3 846.0,929.4 873.0,934.5 900.0,939.6 927.1,944.7 954.1,949.8 981.1,955.0 1008.1,960.1 1035.1,965.2 1062.2,970.3 1089.2,975.4 1116.2,980.5 1143.2,985.7 1170.2,990.8 1197.3,995.9 1224.3,1001.0" stroke="#FFB5B8"/>
<path d="M575.8,949.4 602.8,954.3 629.8,959.3 656.9,964.2 683.9,969.1 710.9,974.1 737.9,979.0 764.9,983.9 792.0,988.8 819.0,993.8 846.0,998.7 873.0,1003.6 900.0,1008.6 927.1,1013.5 954.1,1018.4 981.1,1023.3 1008.1,1028.3 1035.1,1033.2 1062.2,1038.1 1089.2,1043.1 1116.2,1048.0 1143.2,1052.9 1170.2,1057.9 1197.3,1062.8 1224.3,1067.7" stroke="#988ED5"/>
<path d="M575.8,899.2 602.8,903.8 629.8,908.4 656.9,912.9 683.9,917.5 710.9,922.1 737.9,926.7 764.9,931.2 792.0,935.8 819.0,940.4 846.0,945.0 873.0,949.6 900.0,954.1 927.1,958.7 954.1,963.3 981.1,967.8 1008.1,972.4 1035.1,977.0 1062.2,981.6 1089.2,986.2 1116.2,990.7 1143.2,995.3 1170.2,999.9 1197.3,1004.5 1224.3,1009.0" stroke="#FFB5B8"/>
<path d="M575.8,880.6 602.8,885.7 629.8,890.8 656.9,895.9 683.9,901.1 710.9,906.2 737.9,911.3 764.9,916.4 792.0,921.5 819.0,926.7 846.0,931.8 873.0,936.9 900.0,942.0 927.1,947.1 954.1,952.2 981.1,957.4 1008.1,962.5 1035.1,967.6 1062.2,972.7 1089.2,977.8 1116.2,982.9 1143.2,988.0 1170.2,993.1 1197.3,998.3 1224.3,1003.4" stroke="#8EBA42"/>
<path d="M575.8,910.8 602.8,916.0 629.8,921.2 656.9,926.4 683.9,931.5 710.9,936.7 737.9,941.9 764.9,947.1 792.0,952.3 819.0,957.5 846.0,962.6 873.0,967.8 900.0,973.0 927.1,978.2 954.1,983.4 981.1,988.5 1008.1,993.7 1035.1,998.9 1062.2,1004.1 1089.2,1009.3 1116.2,1014.5 1143.2,1019.6 1170.2,1024.8 1197.3,1030.0 1224.3,1035.2" stroke="#FBC15E"/>
<path d="M575.8,1058.5 602.8,1063.7 629.8,1068.8 656.9,1073.8 683.9,1078.7 710.9,1083.7 737.9,1088.5 764.9,1093.3 792.0,1098.1 819.0,1102.8 846.0,1107.4 873.0,1112.0 900.0,1116.5 927.1,1121.0 954.1,1125.4 981.1,1129.8 1008.1,1134.1 1035.1,1138.4 1062.2,1142.5 1089.2,1146.7 1116.2,1150.8 1143.2,1154.8 1170.2,1158.8 1197.3,1162.7 1224.3,1166.6" stroke="#988ED5"/>
<path d="M575.8,1076.7 602.8,1081.8 629.8,1086.8 656.9,1091.7 683.9,1096.6 710.9,1101.5 737.9,1106.2 764.9,1110.9 792.0,1115.6 819.0,1120.2 846.0,1124.8 873.0,1129.3 900.0,1133.7 927.1,1138.1 954.1,1142.4 981.1,1146.7 1008.1,1151.0 1035.1,1155.1 1062.2,1159.2 1089.2,1163.3 1116.2,1167.3 1143.2,1171.3 1170.2,1175.2 1197.3,1179.0 1224.3,1182.8" stroke="#FFB5B8"/>
<path d="M575.8,849.9 602.8,855.0 629.8,860.1 656.9,865.2 683.9,870.2 710.9,875.3 737.9,880.4 764.9,885.5 792.0,890.6 819.0,895.6 846.0,900.8 873.0,905.8 900.0,910.9 927.1,916.0 954.1,921.1 981.1,926.2 1008.1,931.2 1035.1,936.3 1062.2,941.4 1089.2,946.5 1116.2,951.6 1143.2,956.7 1170.2,961.7 1197.3,966.8 1224.3,971.9" stroke="#8EBA42"/>
<path d="M575.8,887.2 602.8,892.2 629.8,897.1 656.9,902.0 683.9,906.9 710.9,911.9 737.9,916.8 764.9,921.8 792.0,926.7 819.0,931.6 846.0,936.6 873.0,941.5 900.0,946.5 927.1,951.4 954.1,956.3 981.1,961.2 1008.1,966.2 1035.1,971.1 1062.2,976.1 1089.2,981.0 1116.2,986.0 1143.2,990.9 1170.2,995.8 1197.3,1000.8 1224.3,1005.7" stroke="#777777"/>
<path d="M575.8,952.2 602.8,957.1 629.8,962.0 656.9,966.9 683.9,971.8 710.9,976.7 737.9,981.6 764.9,986.6 792.0,991.5 819.0,996.4 846.0,1001.3 873.0,1006.3 900.0,1011.2 927.1,1016.1 954.1,1021.0 981.1,1025.9 1008.1,1030.8 1035.1,1035.8 1062.2,1040.7 1089.2,1045.6 1116.2,1050.5 1143.2,1055.5 1170.2,1060.4 1197.3,1065.3 1224.3,1070.2" stroke="#348ABD"/>
<path d="M575.8,1084.4 602.8,1089.4 629.8,1094.3 656.9,1099.2 683.9,1104.0 710.9,1108.8 737.9,1113.5 764.9,1118.2 792.0,1122.8 819.0,1127.3 846.0,1131.8 873.0,1136.2 900.0,1140.6 927.1,1145.0 954.1,1149.3 981.1,1153.5 1008.1,1157.6 1035.1,1161.7 1062.2,1165.8 1089.2,1169.8 1116.2,1173.7 1143.2,1177.6 1170.2,1181.5 1197.3,1185.2 1224.3,1189.0" stroke="#348ABD"/>
<path d="M575.8,992.7 602.8,997.6 629.8,1002.4 656.9,1007.2 683.9,1012.1 710.9,1016.9 737.9,1021.8 764.9,1026.6 792.0,1031.5 819.0,1036.3 846.0,1041.2 873.0,1046.0 900.0,1050.8 927.1,1055.7 954.1,1060.5 981.1,1065.4 1008.1,1070.2 1035.1,1075.1 1062.2,1079.9 1089.2,1084.7 1116.2,1089.6 1143.2,1094.4 1170.2,1099.3 1197.3,1104.1 1224.3,1109.0" stroke="#988ED5"/>
<path d="M575.8,935.0 602.8,940.0 629.8,945.0 656.9,950.1 683.9,955.1 710.9,960.2 737.9,965.2 764.9,970.3 792.0,975.3 819.0,980.4 846.0,985.4 873.0,990.5 900.0,995.5 927.1,1000.6 954.1,1005.6 981.1,1010.7 1008.1,1015.7 1035.1,1020.8 1062.2,1025.8 1089.2,1030.9 1116.2,1035.9 1143.2,1041.0 1170.2,1046.0 1197.3,1051.0 1224.3,1056.1" stroke="#348ABD"/>
<path d="M575.8,857.4 602.8,862.5 629.8,867.6 656.9,872.7 683.9,877.8 710.9,882.8 737.9,887.9 764.9,893.0 792.0,898.1 819.0,903.2 846.0,908.3 873.0,913.4 900.0,918.4 927.1,923.6 954.1,928.6 981.1,933.7 1008.1,938.8 1035.1,943.9 1062.2,949.0 1089.2,954.1 1116.2,959.1 1143.2,964.2 1170.2,969.3 1197.3,974.4 1224.3,979.5" stroke="#988ED5"/>
<path d="M575.8,990.2 602.8,995.1 629.8,999.9 656.9,1004.7 683.9,1009.6 710.9,1014.4 737.9,1019.3 764.9,1024.1 792.0,1029.0 819.0,1033.8 846.0,1038.6 873.0,1043.5 900.0,1048.3 927.1,1053.2 954.1,1058.1 981.1,1062.9 1008.1,1067.7 1035.1,1072.6 1062.2,1077.4 1089.2,1082.3 1116.2,1087.1 1143.2,1092.0 1170.2,1096.8 1197.3,1101.6 1224.3,1106.5" stroke="#777777"/>
<path d="M575.8,1000.6 602.8,1005.6 629.8,1010.7 656.9,1015.7 683.9,1020.7 710.9,1025.8 737.9,1030.8 764.9,1035.8 792.0,1040.9 819.0,1045.9 846.0,1050.9 873.0,1056.0 900.0,1061.0 927.1,1066.0 954.1,1071.1 981.1,1076.1 1008.1,1081.1 1035.1,1086.2 1062.2,1091.2 1089.2,1096.2 1116.2,1101.3 1143.2,1106.3 1170.2,1111.3 1197.3,1116.4 1224.3,1121.4" stroke="#988ED5"/>
<path d="M575.8,847.9 602.8,853.1 629.8,858.2 656.9,863.4 683.9,868.6 710.9,873.8 737.9,878.9 764.9,884.1 792.0,889.3 819.0,894.4 846.0,899.6 873.0,904.8 900.0,909.9 927.1,915.1 954.1,920.3 981.1,925.5 1008.1,930.6 1035.1,935.8 1062.2,941.0 1089.2,946.2 1116.2,951.3 1143.2,956.5 1170.2,961.6 1197.3,966.8 1224.3,972.0" stroke="#FBC15E"/>
<path d="M575.8,867.8 602.8,872.8 629.8,877.9 656.9,882.9 683.9,887.9 710.9,893.0 737.9,898.0 764.9,903.0 792.0,908.1 819.0,913.1 846.0,918.1 873.0,923.2 900.0,928.2 927.1,933.2 954.1,938.3 981.1,943.3 1008.1,948.3 1035.1,953.4 1062.2,958.4 1089.2,963.4 1116.2,968.5 1143.2,973.5 1170.2,978.5 1197.3,983.6 1224.3,988.6" stroke="#E24A33"/>
<path d="M575.8,932.0 602.8,937.1 629.8,942.1 656.9,947.1 683.9,952.2 710.9,957.3 737.9,962.3 764.9,967.3 792.0,972.4 819.0,977.5 846.0,982.5 873.0,987.5 900.0,992.6 927.1,997.7 954.1,1002.7 981.1,1007.7 1008.1,1012.8 1035.1,1017.9 1062.2,1022.9 1089.2,1027.9 1116.2,1033.0 1143.2,1038.1 1170.2,1043.1 1197.3,1048.1 1224.3,1053.2" stroke="#8EBA42"/>
<path d="M575.8,917.0 602.8,922.0 629.8,927.1 656.9,932.1 683.9,937.2 710.9,942.2 737.9,947.2 764.9,952.3 792.0,957.3 819.0,962.3 846.0,967.4 873.0,972.4 900.0,977.5 927.1,982.5 954.1,987.5 981.1,992.6 1008.1,997.6 1035.1,1002.6 1062.2,1007.7 1089.2,1012.7 1116.2,1017.8 1143.2,1022.8 1170.2,1027.8 1197.3,1032.8 1224.3,1037.9" stroke="#FBC15E"/>
<path d="M575.8,903.0 602.8,907.8 629.8,912.6 656.9,917.5 683.9,922.3 710.9,927.1 737.9,932.0 764.9,936.8 792.0,941.6 819.0,946.4 846.0,951.3 873.0,956.1 900.0,960.9 927.1,965.7 954.1,970.5 981.1,975.4 1008.1,980.2 1035.1,985.0 1062.2,989.8 1089.2,994.7 1116.2,999.5 1143.2,1004.3 1170.2,1009.2 1197.3,1014.0 1224.3,1018.8" stroke="#FFB5B8"/>
<path d="M575.8,901.3 602.8,906.0 629.8,910.6 656.9,915.2 683.9,919.9 710.9,924.6 737.9,929.2 764.9,933.9 792.0,938.5 819.0,943.2 846.0,947.8 873.0,952.5 900.0,957.2 927.1,961.8 954.1,966.5 981.1,971.1 1008.1,975.8 1035.1,980.4 1062.2,985.1 1089.2,989.7 1116.2,994.4 1143.2,999.0 1170.2,1003.7 1197.3,1008.3 1224.3,1013.0" stroke="#777777"/>
<path d="M575.8,897.2 602.8,901.9 629.8,906.6 656.9,911.3 683.9,915.9 710.9,920.7 737.9,925.3 764.9,930.0 792.0,934.7 819.0,939.4 846.0,944.1 873.0,948.8 900.0,953.4 927.1,958.2 954.1,962.8 981.1,967.5 1008.1,972.2 1035.1,976.9 1062.2,981.6 1089.2,986.3 1116.2,990.9 1143.2,995.6 1170.2,1000.3 1197.3,1005.0 1224.3,1009.7" stroke="#E24A33"/>
<path d="M575.8,856.6 602.8,861.6 629.8,866.5 656.9,871.5 683.9,876.4 710.9,881.4 737.9,886.4 764.9,891.3 792.0,896.3 819.0,901.2 846.0,906.2 873.0,911.2 900.0,916.1 927.1,921.1 954.1,926.1 981.1,931.0 1008.1,936.0 1035.1,941.0 1062.2,945.9 1089.2,950.9 1116.2,955.8 1143.2,960.8 1170.2,965.8 1197.3,970.7 1224.3,975.7" stroke="#348ABD"/>
<path d="M575.8,974.5 602.8,979.5 629.8,984.5 656.9,989.5 683.9,994.4 710.9,999.4 737.9,1004.4 764.9,1009.4 792.0,1014.4 819.0,1019.3 846.0,1024.3 873.0,1029.3 900.0,1034.3 927.1,1039.3 954.1,1044.3 981.1,1049.3 1008.1,1054.2 1035.1,1059.2 1062.2,1064.2 1089.2,1069.2 1116.2,1074.2 1143.2,1079.1 1170.2,1084.1 1197.3,1089.1 1224.3,1094.1" stroke="#348ABD"/>
<path d="M575.8,1019.2 602.8,1024.0 629.8,1028.9 656.9,1033.7 683.9,1038.5 710.9,1043.4 737.9,1048.2 764.9,1053.0 792.0,1057.8 819.0,1062.7 846.0,1067.5 873.0,1072.3 900.0,1077.2 927.1,1082.0 954.1,1086.8 981.1,1091.6 1008.1,1096.5 1035.1,1101.3 1062.2,1106.1 1089.2,1110.9 1116.2,1115.8 1143.2,1120.6 1170.2,1125.4 1197.3,1130.3 1224.3,1135.1" stroke="#8EBA42"/>
<path d="M575.8,982.8 602.8,987.7 629.8,992.6 656.9,997.5 683.9,1002.4 710.9,1007.3 737.9,1012.2 764.9,1017.1 792.0,1022.0 819.0,1026.9 846.0,1031.8 873.0,1036.7 900.0,1041.5 927.1,1046.5 954.1,1051.3 981.1,1056.2 1008.1,1061.1 1035.1,1066.0 1062.2,1070.9 1089.2,1075.8 1116.2,1080.7 1143.2,1085.6 1170.2,1090.5 1197.3,1095.4 1224.3,1100.3" stroke="#988ED5"/>
<path d="M575.8,883.5 602.8,888.6 629.8,893.7 656.9,898.8 683.9,903.8 710.9,908.9 737.9,914.0 764.9,919.1 792.0,924.2 819.0,929.3 846.0,934.4 873.0,939.5 900.0,944.5 927.1,949.6 954.1,954.7 981.1,959.8 1008.1,964.9 1035.1,970.0 1062.2,975.1 1089.2,980.2 1116.2,985.2 1143.2,990.3 1170.2,995.4 1197.3,1000.5 1224.3,1005.6" stroke="#FFB5B8"/>
<path d="M575.8,1119.7 602.8,1124.5 629.8,1129.3 656.9,1134.0 683.9,1138.7 710.9,1143.3 737.9,1147.9 764.9,1152.4 792.0,1156.8 819.0,1161.3 846.0,1165.6 873.0,1169.9 900.0,1174.1 927.1,1178.3 954.1,1182.4 981.1,1186.5 1008.1,1190.5 1035.1,1194.4 1062.2,1198.4 1089.2,1202.2 1116.2,1206.0 1143.2,1209.7 1170.2,1213.4 1197.3,1217.0 1224.3,1220.6" stroke="#8EBA42"/>
<path d="M575.8,960.0 602.8,964.9 629.8,969.8 656.9,974.7 683.9,979.6 710.9,984.5 737.9,989.4 764.9,994.3 792.0,999.2 819.0,1004.1 846.0,1009.0 873.0,1013.9 900.0,1018.7 927.1,1023.7 954.1,1028.5 981.1,1033.4 1008.1,1038.3 1035.1,1043.2 1062.2,1048.1 1089.2,1053.0 1116.2,1057.9 1143.2,1062.8 1170.2,1067.7 1197.3,1072.6 1224.3,1077.5" stroke="#8EBA42"/>
<path d="M575.8,963.7 602.8,968.6 629.8,973.5 656.9,978.4 683.9,983.3 710.9,988.2 737.9,993.1 764.9,998.0 792.0,1002.9 819.0,1007.8 846.0,1012.7 873.0,1017.6 900.0,1022.4 927.1,1027.3 954.1,1032.3 981.1,1037.1 1008.1,1042.0 1035.1,1046.9 1062.2,1051.8 1089.2,1056.7 1116.2,1061.6 1143.2,1066.5 1170.2,1071.4 1197.3,1076.3 1224.3,1081.2" stroke="#777777"/>
<path d="M575.8,1091.9 602.8,1097.0 629.8,1102.1 656.9,1107.1 683.9,1112.0 710.9,1116.9 737.9,1121.7 764.9,1126.5 792.0,1131.2 819.0,1135.9 846.0,1140.5 873.0,1145.1 900.0,1149.6 927.1,1154.1 954.1,1158.5 981.1,1162.8 1008.1,1167.1 1035.1,1171.3 1062.2,1175.5 1089.2,1179.6 1116.2,1183.7 1143.2,1187.7 1170.2,1191.6 1197.3,1195.6 1224.3,1199.4" stroke="#E24A33"/>
<path d="M575.8,1067.8 602.8,1073.1 629.8,1078.4 656.9,1083.6 683.9,1088.8 710.9,1093.9 737.9,1099.0 764.9,1104.0 792.0,1108.9 819.0,1113.8 846.0,1118.7 873.0,1123.4 900.0,1128.1 927.1,1132.8 954.1,1137.4 981.1,1142.0 1008.1,1146.5 1035.1,1151.0 1062.2,1155.4 1089.2,1159.7 1116.2,1164.0 1143.2,1168.2 1170.2,1172.4 1197.3,1176.5 1224.3,1180.6" stroke="#E24A33"/>
<path d="M575.8,959.3 602.8,964.1 629.8,969.0 656.9,973.9 683.9,978.7 710.9,983.6 737.9,988.5 764.9,993.3 792.0,998.2 819.0,1003.1 846.0,1007.9 873.0,1012.8 900.0,1017.7 927.1,1022.5 954.1,1027.4 981.1,1032.2 1008.1,1037.1 1035.1,1042.0 1062.2,1046.8 1089.2,1051.7 1116.2,1056.5 1143.2,1061.4 1170.2,1066.3 1197.3,1071.1 1224.3,1076.0" stroke="#8EBA42"/>
<path d="M575.8,1086.9 602.8,1092.0 629.8,1097.0 656.9,1102.0 683.9,1107.0 710.9,1111.9 737.9,1116.7 764.9,1121.5 792.0,1126.2 819.0,1130.8 846.0,1135.5 873.0,1140.0 900.0,1144.5 927.1,1148.9 954.1,1153.3 981.1,1157.7 1008.1,1161.9 1035.1,1166.2 1062.2,1170.3 1089.2,1174.5 1116.2,1178.5 1143.2,1182.5 1170.2,1186.5 1197.3,1190.3 1224.3,1194.2" stroke="#8EBA42"/>
<path d="M575.8,998.1 602.8,1003.0 629.8,1007.9 656.9,1012.7 683.9,1017.6 710.9,1022.5 737.9,1027.4 764.9,1032.3 792.0,1037.1 819.0,1042.0 846.0,1046.9 873.0,1051.8 900.0,1056.6 927.1,1061.5 954.1,1066.4 981.1,1071.3 1008.1,1076.2 1035.1,1081.1 1062.2,1085.9 1089.2,1090.8 1116.2,1095.7 1143.2,1100.6 1170.2,1105.4 1197.3,1110.3 1224.3,1115.2" stroke="#FFB5B8"/>
<path d="M575.8,905.9 602.8,910.7 629.8,915.6 656.9,920.4 683.9,925.3 710.9,930.1 737.9,935.0 764.9,939.8 792.0,944.6 819.0,949.5 846.0,954.3 873.0,959.2 900.0,964.0 927.1,968.8 954.1,973.7 981.1,978.5 1008.1,983.4 1035.1,988.2 1062.2,993.0 1089.2,997.9 1116.2,1002.7 1143.2,1007.6 1170.2,1012.4 1197.3,1017.3 1224.3,1022.1" stroke="#777777"/>
<path d="M575.8,876.5 602.8,881.6 629.8,886.6 656.9,891.7 683.9,896.8 710.9,901.8 737.9,906.9 764.9,912.0 792.0,917.0 819.0,922.1 846.0,927.2 873.0,932.2 900.0,937.3 927.1,942.4 954.1,947.4 981.1,952.5 1008.1,957.6 1035.1,962.6 1062.2,967.7 1089.2,972.8 1116.2,977.8 1143.2,982.9 1170.2,988.0 1197.3,993.0 1224.3,998.1" stroke="#348ABD"/>
<path d="M575.8,922.8 602.8,928.0 629.8,933.1 656.9,938.3 683.9,943.5 710.9,948.7 737.9,953.8 764.9,959.0 792.0,964.2 819.0,969.4 846.0,974.6 873.0,979.7 900.0,984.9 927.1,990.1 954.1,995.3 981.1,1000.4 1008.1,1005.6 1035.1,1010.8 1062.2,1015.9 1089.2,1021.1 1116.2,1026.3 1143.2,1031.5 1170.2,1036.6 1197.3,1041.8 1224.3,1047.0" stroke="#FBC15E"/>
<path d="M575.8,967.0 602.8,972.0 629.8,976.9 656.9,981.9 683.9,986.9 710.9,991.8 737.9,996.8 764.9,1001.8 792.0,1006.7 819.0,1011.7 846.0,1016.7 873.0,1021.6 900.0,1026.6 927.1,1031.6 954.1,1036.5 981.1,1041.5 1008.1,1046.5 1035.1,1051.4 1062.2,1056.4 1089.2,1061.4 1116.2,1066.3 1143.2,1071.3 1170.2,1076.3 1197.3,1081.2 1224.3,1086.2" stroke="#8EBA42"/>
<path d="M575.8,878.1 602.8,883.3 629.8,888.5 656.9,893.7 683.9,898.9 710.9,904.1 737.9,909.4 764.9,914.6 792.0,919.8 819.0,925.0 846.0,930.2 873.0,935.4 900.0,940.6 927.1,945.8 954.1,951.0 981.1,956.2 1008.1,961.4 1035.1,966.7 1062.2,971.9 1089.2,977.1 1116.2,982.3 1143.2,987.5 1170.2,992.7 1197.3,997.9 1224.3,1003.1" stroke="#348ABD"/>
<path d="M575.8,938.6 602.8,943.7 629.8,948.8 656.9,953.9 683.9,959.0 710.9,964.1 737.9,969.2 764.9,974.3 792.0,979.4 819.0,984.5 846.0,989.7 873.0,994.8 900.0,999.9 927.1,1004.9 954.1,1010.0 981.1,1015.2 1008.1,1020.3 1035.1,1025.4 1062.2,1030.5 1089.2,1035.6 1116.2,1040.7 1143.2,1045.8 1170.2,1050.9 1197.3,1056.0 1224.3,1061.1" stroke="#E24A33"/>
<path d="M575.8,1009.3 602.8,1014.2 629.8,1019.1 656.9,1024.0 683.9,1028.9 710.9,1033.8 737.9,1038.7 764.9,1043.6 792.0,1048.5 819.0,1053.4 846.0,1058.3 873.0,1063.2 900.0,1068.0 927.1,1072.9 954.1,1077.9 981.1,1082.7 1008.1,1087.6 1035.1,1092.5 1062.2,1097.4 1089.2,1102.3 1116.2,1107.2 1143.2,1112.1 1170.2,1117.0 1197.3,1121.9 1224.3,1126.8" stroke="#8EBA42"/>
<path d="M575.8,928.2 602.8,933.3 629.8,938.4 656.9,943.5 683.9,948.6 710.9,953.6 737.9,958.7 764.9,963.8 792.0,968.9 819.0,974.0 846.0,979.1 873.0,984.1 900.0,989.3 927.1,994.3 954.1,999.4 981.1,1004.5 1008.1,1009.6 1035.1,1014.7 1062.2,1019.8 1089.2,1024.9 1116.2,1029.9 1143.2,1035.0 1170.2,1040.1 1197.3,1045.2 1224.3,1050.3" stroke="#E24A33"/>
<path d="M575.8,1043.2 602.8,1048.0 629.8,1052.8 656.9,1057.6 683.9,1062.3 710.9,1067.1 737.9,1071.9 764.9,1076.7 792.0,1081.5 819.0,1086.3 846.0,1091.0 873.0,1095.8 900.0,1100.6 927.1,1105.4 954.1,1110.2 981.1,1115.0 1008.1,1119.7 1035.1,1124.5 1062.2,1129.3 1089.2,1134.1 1116.2,1138.9 1143.2,1143.7 1170.2,1148.4 1197.3,1153.2 1224.3,1158.0" stroke="#348ABD"/>
<path d="M575.8,920.0 602.8,925.0 629.8,930.0 656.9,935.1 683.9,940.1 710.9,945.1 737.9,950.1 764.9,955.1 792.0,960.1 819.0,965.1 846.0,970.2 873.0,975.2 900.0,980.2 927.1,985.2 954.1,990.2 981.1,995.3 1008.1,1000.3 1035.1,1005.3 1062.2,1010.3 1089.2,1015.3 1116.2,1020.3 1143.2,1025.3 1170.2,1030.4 1197.3,1035.4 1224.3,1040.4" stroke="#8EBA42"/>
<path d="M575.8,1058.6 602.8,1063.9 629.8,1069.1 656.9,1074.2 683.9,1079.3 710.9,1084.3 737.9,1089.3 764.9,1094.2 792.0,1099.1 819.0,1103.9 846.0,1108.7 873.0,1113.4 900.0,1118.1 927.1,1122.6 954.1,1127.2 981.1,1131.7 1008.1,1136.1 1035.1,1140.5 1062.2,1144.8 1089.2,1149.1 1116.2,1153.3 1143.2,1157.5 1170.2,1161.6 1197.3,1165.6 1224.3,1169.6" stroke="#FFB5B8"/>
<path d="M575.8,969.5 602.8,974.6 629.8,979.7 656.9,984.8 683.9,989.8 710.9,994.9 737.9,1000.0 764.9,1005.1 792.0,1010.2 819.0,1015.3 846.0,1020.4 873.0,1025.5 900.0,1030.5 927.1,1035.6 954.1,1040.7 981.1,1045.8 1008.1,1050.9 1035.1,1056.0 1062.2,1061.1 1089.2,1066.2 1116.2,1071.2 1143.2,1076.3 1170.2,1081.4 1197.3,1086.5 1224.3,1091.6" stroke="#777777"/>
<path d="M575.8,1003.5 602.8,1008.6 629.8,1013.6 656.9,1018.6 683.9,1023.7 710.9,1028.8 737.9,1033.8 764.9,1038.8 792.0,1043.9 819.0,1049.0 846.0,1054.0 873.0,1059.0 900.0,1064.1 927.1,1069.2 954.1,1074.2 981.1,1079.2 1008.1,1084.3 1035.1,1089.4 1062.2,1094.4 1089.2,1099.4 1116.2,1104.5 1143.2,1109.6 1170.2,1114.6 1197.3,1119.6 1224.3,1124.7" stroke="#FFB5B8"/>
<path d="M575.8,1089.4 602.8,1094.5 629.8,1099.6 656.9,1104.6 683.9,1109.6 710.9,1114.5 737.9,1119.3 764.9,1124.1 792.0,1128.8 819.0,1133.5 846.0,1138.2 873.0,1142.7 900.0,1147.3 927.1,1151.7 954.1,1156.1 981.1,1160.5 1008.1,1164.8 1035.1,1169.0 1062.2,1173.2 1089.2,1177.3 1116.2,1181.4 1143.2,1185.4 1170.2,1189.4 1197.3,1193.3 1224.3,1197.2" stroke="#FFB5B8"/>
<path d="M575.8,1061.5 602.8,1066.9 629.8,1072.2 656.9,1077.5 683.9,1082.7 710.9,1087.9 737.9,1093.0 764.9,1098.1 792.0,1103.1 819.0,1108.0 846.0,1112.9 873.0,1117.8 900.0,1122.5 927.1,1127.3 954.1,1132.0 981.1,1136.6 1008.1,1141.2 1035.1,1145.7 1062.2,1150.1 1089.2,1154.5 1116.2,1158.8 1143.2,1163.2 1170.2,1167.4 1197.3,1171.6 1224.3,1175.7" stroke="#777777"/>
<path d="M575.8,1110.5 602.8,1115.4 629.8,1120.2 656.9,1125.0 683.9,1129.7 710.9,1134.4 737.9,1139.0 764.9,1143.6 792.0,1148.0 819.0,1152.5 846.0,1156.9 873.0,1161.2 900.0,1165.5 927.1,1169.7 954.1,1173.9 981.1,1178.0 1008.1,1182.1 1035.1,1186.1 1062.2,1190.1 1089.2,1193.9 1116.2,1197.8 1143.2,1201.6 1170.2,1205.3 1197.3,1209.0 1224.3,1212.6" stroke="#FBC15E"/>
<path d="M575.8,995.2 602.8,1000.1 629.8,1004.9 656.9,1009.8 683.9,1014.7 710.9,1019.5 737.9,1024.4 764.9,1029.2 792.0,1034.1 819.0,1039.0 846.0,1043.8 873.0,1048.7 900.0,1053.5 927.1,1058.4 954.1,1063.3 981.1,1068.1 1008.1,1073.0 1035.1,1077.9 1062.2,1082.7 1089.2,1087.6 1116.2,1092.5 1143.2,1097.3 1170.2,1102.2 1197.3,1107.1 1224.3,1111.9" stroke="#777777"/>
<path d="M575.8,908.8 602.8,914.1 629.8,919.3 656.9,924.6 683.9,929.8 710.9,935.1 737.9,940.4 764.9,945.6 792.0,950.9 819.0,956.1 846.0,961.4 873.0,966.7 900.0,971.9 927.1,977.2 954.1,982.4 981.1,987.7 1008.1,992.9 1035.1,998.2 1062.2,1003.5 1089.2,1008.7 1116.2,1014.0 1143.2,1019.2 1170.2,1024.5 1197.3,1029.8 1224.3,1035.0" stroke="#FFB5B8"/>
<path d="M575.8,1082.4 602.8,1087.3 629.8,1092.3 656.9,1097.1 683.9,1101.9 710.9,1106.6 737.9,1111.3 764.9,1115.9 792.0,1120.5 819.0,1125.0 846.0,1129.5 873.0,1133.8 900.0,1138.2 927.1,1142.5 954.1,1146.7 981.1,1150.9 1008.1,1155.1 1035.1,1159.1 1062.2,1163.1 1089.2,1167.1 1116.2,1171.0 1143.2,1174.9 1170.2,1178.7 1197.3,1182.4 1224.3,1186.1" stroke="#348ABD"/>
<path d="M575.8,864.0 602.8,869.1 629.8,874.1 656.9,879.1 683.9,884.1 710.9,889.2 737.9,894.2 764.9,899.3 792.0,904.3 819.0,909.4 846.0,914.4 873.0,919.4 900.0,924.4 927.1,929.5 954.1,934.5 981.1,939.6 1008.1,944.6 1035.1,949.6 1062.2,954.7 1089.2,959.7 1116.2,964.7 1143.2,969.8 1170.2,974.8 1197.3,979.9 1224.3,984.9" stroke="#988ED5"/>
<path d="M575.8,951.8 602.8,956.9 629.8,961.9 656.9,966.9 683.9,972.0 710.9,977.1 737.9,982.1 764.9,987.2 792.0,992.2 819.0,997.3 846.0,1002.3 873.0,1007.4 900.0,1012.5 927.1,1017.5 954.1,1022.6 981.1,1027.6 1008.1,1032.7 1035.1,1037.7 1062.2,1042.8 1089.2,1047.8 1116.2,1052.9 1143.2,1057.9 1170.2,1063.0 1197.3,1068.0 1224.3,1073.1" stroke="#E24A33"/>
<path d="M575.8,935.3 602.8,940.4 629.8,945.6 656.9,950.7 683.9,955.8 710.9,961.0 737.9,966.1 764.9,971.3 792.0,976.4 819.0,981.5 846.0,986.7 873.0,991.8 900.0,997.0 927.1,1002.1 954.1,1007.2 981.1,1012.4 1008.1,1017.5 1035.1,1022.6 1062.2,1027.8 1089.2,1032.9 1116.2,1038.1 1143.2,1043.2 1170.2,1048.3 1197.3,1053.5 1224.3,1058.6" stroke="#988ED5"/>
<path d="M575.8,894.7 602.8,899.4 629.8,904.1 656.9,908.8 683.9,913.4 710.9,918.1 737.9,922.8 764.9,927.5 792.0,932.2 819.0,936.9 846.0,941.6 873.0,946.3 900.0,950.9 927.1,955.6 954.1,960.3 981.1,965.0 1008.1,969.7 1035.1,974.4 1062.2,979.1 1089.2,983.8 1116.2,988.5 1143.2,993.1 1170.2,997.8 1197.3,1002.5 1224.3,1007.2" stroke="#8EBA42"/>
<path d="M575.8,872.3 602.8,877.2 629.8,882.2 656.9,887.1 683.9,892.0 710.9,897.0 737.9,901.9 764.9,906.8 792.0,911.8 819.0,916.7 846.0,921.6 873.0,926.6 900.0,931.5 927.1,936.4 954.1,941.4 981.1,946.3 1008.1,951.2 1035.1,956.2 1062.2,961.1 1089.2,966.0 1116.2,971.0 1143.2,975.9 1170.2,980.8 1197.3,985.8 1224.3,990.7" stroke="#988ED5"/>
<path d="M575.8,1015.5 602.8,1020.4 629.8,1025.2 656.9,1030.0 683.9,1034.9 710.9,1039.7 737.9,1044.6 764.9,1049.4 792.0,1054.3 819.0,1059.1 846.0,1064.0 873.0,1068.8 900.0,1073.6 927.1,1078.5 954.1,1083.3 981.1,1088.2 1008.1,1093.0 1035.1,1097.9 1062.2,1102.7 1089.2,1107.6 1116.2,1112.4 1143.2,1117.3 1170.2,1122.1 1197.3,1127.0 1224.3,1131.8" stroke="#E24A33"/>
<path d="M575.8,949.4 602.8,954.2 629.8,959.0 656.9,963.8 683.9,968.6 710.9,973.4 737.9,978.2 764.9,982.9 792.0,987.7 819.0,992.5 846.0,997.3 873.0,1002.1 900.0,1006.9 927.1,1011.7 954.1,1016.5 981.1,1021.3 1008.1,1026.1 1035.1,1030.9 1062.2,1035.6 1089.2,1040.4 1116.2,1045.2 1143.2,1050.0 1170.2,1054.8 1197.3,1059.6 1224.3,1064.4" stroke="#FBC15E"/>
</g>
<path d="M575.80 1277.30v5.3M710.90 1277.30v5.3M846.00 1277.30v5.3M981.10 1277.30v5.3M1116.20 1277.30v5.3M1251.30 1277.30v5.3M542.50 1243.30h-5.3M542.50 1177.40h-5.3M542.50 1111.50h-5.3M542.50 1045.60h-5.3M542.50 979.70h-5.3M542.50 913.80h-5.3M542.50 847.90h-5.3M542.50 782.00h-5.3" stroke="#555" stroke-width="1.5" fill="none"/>
<g font-family="DejaVu Sans, sans-serif" font-size="27.9" fill="#555">
<text x="575.80" y="1310.40" text-anchor="middle">0</text>
<text x="710.90" y="1310.40" text-anchor="middle">5</text>
<text x="846.00" y="1310.40" text-anchor="middle">10</text>
<text x="981.10" y="1310.40" text-anchor="middle">15</text>
<text x="1116.20" y="1310.40" text-anchor="middle">20</text>
<text x="1251.30" y="1310.40" text-anchor="middle">25</text>
<text x="530.90" y="1253.50" text-anchor="end">−2</text>
<text x="530.90" y="1187.60" text-anchor="end">0</text>
<text x="530.90" y="1121.70" text-anchor="end">2</text>
<text x="530.90" y="1055.80" text-anchor="end">4</text>
<text x="530.90" y="989.90" text-anchor="end">6</text>
<text x="530.90" y="924.00" text-anchor="end">8</text>
<text x="530.90" y="858.10" text-anchor="end">10</text>
<text x="530.90" y="792.20" text-anchor="end">12</text>
<text x="900.15" y="1345.10" text-anchor="middle">num of shift intervals</text>
<text transform="translate(476.20,1029.20) rotate(-90)" text-anchor="middle">original predicted values</text>
</g>
<g font-family="DejaVu Sans, sans-serif" font-size="27.9" fill="#000">
<text x="900.15" y="770.85" text-anchor="middle">LSTM test on first 100 examples</text>
<text x="920.90" y="830.60">slope: -0.146±0.015</text>
</g>
</g>
<g font-family="Liberation Serif, serif" font-size="50" fill="#000">
<text x="360.2" y="707.4" textLength="55.6" lengthAdjust="spacingAndGlyphs">(a)</text>
<text x="433.04" y="707.4" textLength="63.84" lengthAdjust="spacingAndGlyphs">FC</text>
<text x="1209.43" y="707.5" textLength="57.54" lengthAdjust="spacingAndGlyphs">(b)</text>
<text x="1285.47" y="707.5" textLength="102.27" lengthAdjust="spacingAndGlyphs">CNN</text>
<text x="762.61" y="1437.7" textLength="52.78" lengthAdjust="spacingAndGlyphs">(c)</text>
<text x="832.62" y="1437.7" textLength="131.51" lengthAdjust="spacingAndGlyphs">LSTM</text>
</g>
</svg>
</body></html>
